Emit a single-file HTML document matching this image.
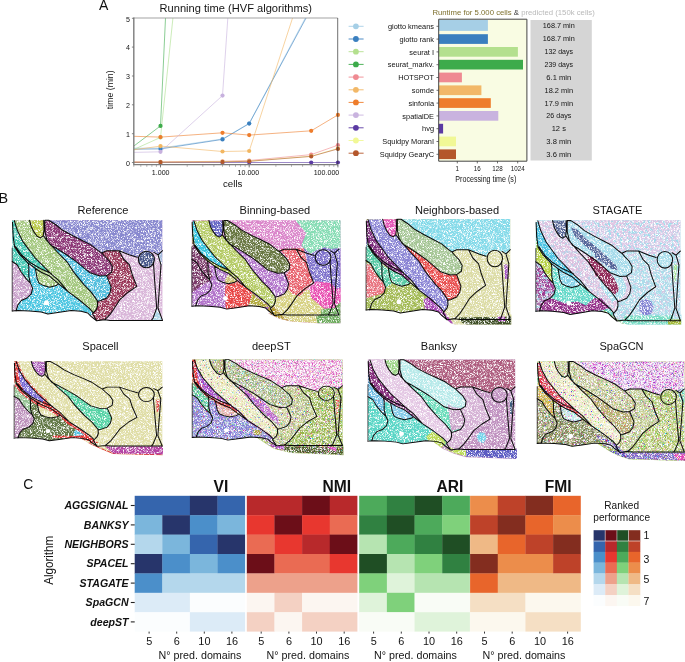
<!DOCTYPE html>
<html lang="en"><head><meta charset="utf-8"><title>Figure</title>
<style>
html,body{margin:0;padding:0;background:#fff;}
body{width:685px;height:662px;overflow:hidden;}
svg{display:block;font-family:"Liberation Sans", sans-serif;}
</style></head><body>
<svg width="685" height="662" viewBox="0 0 685 662">
<rect width="685" height="662" fill="#fff"/>
<g id="panelA">
<clipPath id="cpA"><rect x="133.5" y="18.0" width="207.2" height="147.5"/></clipPath>
<rect x="133.5" y="18.0" width="204.2" height="147.5" fill="#fff" stroke="none"/>
<g clip-path="url(#cpA)" fill="none" stroke-width="0.6" stroke-linejoin="round">
<polyline points="133.8,148.1 160.5,148.1 222.5,138.9 249.2,123.3 311.2,6.8" stroke="#a6cfe6"/>
<polyline points="133.8,149.2 160.5,148.9 222.5,139.4 249.2,123.6 311.2,8.5" stroke="#3a7fbf"/>
<polyline points="133.8,149.5 160.5,137.4 173.5,12.5" stroke="#aadf8c"/>
<polyline points="133.8,146.1 160.5,125.9 165.9,9.6" stroke="#3dab4b"/>
<polyline points="133.8,161.9 160.5,161.9 222.5,161.3 249.2,160.5 311.2,154.6 337.9,145.2" stroke="#f0898c"/>
<polyline points="133.8,149.8 160.5,146.1 222.5,151.5 249.2,151.0 293.4,15.4" stroke="#f2b661"/>
<polyline points="133.8,136.3 160.5,137.1 222.5,132.8 249.2,135.1 311.2,130.8 337.9,114.9" stroke="#ee7d2c"/>
<polyline points="133.8,152.4 160.5,151.8 222.5,95.6 228.2,12.5" stroke="#c7b1de"/>
<polyline points="133.8,162.5 160.5,162.5 222.5,162.5 249.2,162.5 311.2,162.5 337.9,162.5" stroke="#5b3aa3"/>
<polyline points="133.8,162.2 160.5,162.2 222.5,161.6 249.2,161.1 311.2,156.2 337.9,148.4" stroke="#eef58e"/>
<polyline points="133.8,162.2 160.5,162.2 222.5,161.9 249.2,161.3 311.2,156.4 337.9,148.9" stroke="#b4572b"/>
<circle cx="160.5" cy="148.1" r="2.1" fill="#a6cfe6" stroke="none"/>
<circle cx="222.5" cy="138.9" r="2.1" fill="#a6cfe6" stroke="none"/>
<circle cx="249.2" cy="123.3" r="2.1" fill="#a6cfe6" stroke="none"/>
<circle cx="160.5" cy="148.9" r="2.1" fill="#3a7fbf" stroke="none"/>
<circle cx="222.5" cy="139.4" r="2.1" fill="#3a7fbf" stroke="none"/>
<circle cx="249.2" cy="123.6" r="2.1" fill="#3a7fbf" stroke="none"/>
<circle cx="160.5" cy="137.4" r="2.1" fill="#aadf8c" stroke="none"/>
<circle cx="160.5" cy="125.9" r="2.1" fill="#3dab4b" stroke="none"/>
<circle cx="160.5" cy="161.9" r="2.1" fill="#f0898c" stroke="none"/>
<circle cx="222.5" cy="161.3" r="2.1" fill="#f0898c" stroke="none"/>
<circle cx="249.2" cy="160.5" r="2.1" fill="#f0898c" stroke="none"/>
<circle cx="311.2" cy="154.6" r="2.1" fill="#f0898c" stroke="none"/>
<circle cx="337.9" cy="145.2" r="2.1" fill="#f0898c" stroke="none"/>
<circle cx="160.5" cy="146.1" r="2.1" fill="#f2b661" stroke="none"/>
<circle cx="222.5" cy="151.5" r="2.1" fill="#f2b661" stroke="none"/>
<circle cx="249.2" cy="151.0" r="2.1" fill="#f2b661" stroke="none"/>
<circle cx="160.5" cy="137.1" r="2.1" fill="#ee7d2c" stroke="none"/>
<circle cx="222.5" cy="132.8" r="2.1" fill="#ee7d2c" stroke="none"/>
<circle cx="249.2" cy="135.1" r="2.1" fill="#ee7d2c" stroke="none"/>
<circle cx="311.2" cy="130.8" r="2.1" fill="#ee7d2c" stroke="none"/>
<circle cx="337.9" cy="114.9" r="2.1" fill="#ee7d2c" stroke="none"/>
<circle cx="160.5" cy="151.8" r="2.1" fill="#c7b1de" stroke="none"/>
<circle cx="222.5" cy="95.6" r="2.1" fill="#c7b1de" stroke="none"/>
<circle cx="160.5" cy="162.5" r="2.1" fill="#5b3aa3" stroke="none"/>
<circle cx="222.5" cy="162.5" r="2.1" fill="#5b3aa3" stroke="none"/>
<circle cx="249.2" cy="162.5" r="2.1" fill="#5b3aa3" stroke="none"/>
<circle cx="311.2" cy="162.5" r="2.1" fill="#5b3aa3" stroke="none"/>
<circle cx="337.9" cy="162.5" r="2.1" fill="#5b3aa3" stroke="none"/>
<circle cx="160.5" cy="162.2" r="2.1" fill="#eef58e" stroke="none"/>
<circle cx="222.5" cy="161.6" r="2.1" fill="#eef58e" stroke="none"/>
<circle cx="249.2" cy="161.1" r="2.1" fill="#eef58e" stroke="none"/>
<circle cx="311.2" cy="156.2" r="2.1" fill="#eef58e" stroke="none"/>
<circle cx="337.9" cy="148.4" r="2.1" fill="#eef58e" stroke="none"/>
<circle cx="160.5" cy="162.2" r="2.1" fill="#b4572b" stroke="none"/>
<circle cx="222.5" cy="161.9" r="2.1" fill="#b4572b" stroke="none"/>
<circle cx="249.2" cy="161.3" r="2.1" fill="#b4572b" stroke="none"/>
<circle cx="311.2" cy="156.4" r="2.1" fill="#b4572b" stroke="none"/>
<circle cx="337.9" cy="148.9" r="2.1" fill="#b4572b" stroke="none"/>
</g>
<path d="M133.5 18.0H337.7" fill="none" stroke="#999" stroke-width="0.9"/>
<path d="M337.7 18.0V165.5" fill="none" stroke="#333" stroke-width="0.7"/>
<path d="M133.8 17.6V164.6H337.7" fill="none" stroke="#7d7d7d" stroke-width="1.4"/>
<path d="M131.9 162.5H133.5" stroke="#555" stroke-width="0.7"/>
<text x="130.0" y="165.7" font-size="7.1" text-anchor="end" fill="#141414">0</text>
<path d="M131.9 133.7H133.5" stroke="#555" stroke-width="0.7"/>
<text x="130.0" y="136.9" font-size="7.1" text-anchor="end" fill="#141414">1</text>
<path d="M131.9 104.8H133.5" stroke="#555" stroke-width="0.7"/>
<text x="130.0" y="108.0" font-size="7.1" text-anchor="end" fill="#141414">2</text>
<path d="M131.9 76.0H133.5" stroke="#555" stroke-width="0.7"/>
<text x="130.0" y="79.2" font-size="7.1" text-anchor="end" fill="#141414">3</text>
<path d="M131.9 47.1H133.5" stroke="#555" stroke-width="0.7"/>
<text x="130.0" y="50.3" font-size="7.1" text-anchor="end" fill="#141414">4</text>
<path d="M131.9 18.3H133.5" stroke="#555" stroke-width="0.7"/>
<text x="130.0" y="21.5" font-size="7.1" text-anchor="end" fill="#141414">5</text>
<path d="M160.5 165.0v2.4" stroke="#555" stroke-width="0.8"/>
<path d="M249.2 165.0v2.4" stroke="#555" stroke-width="0.8"/>
<path d="M337.9 165.0v2.4" stroke="#555" stroke-width="0.8"/>
<path d="M133.8 165.2v1.5" stroke="#666" stroke-width="0.6"/>
<path d="M140.8 165.2v1.5" stroke="#666" stroke-width="0.6"/>
<path d="M146.8 165.2v1.5" stroke="#666" stroke-width="0.6"/>
<path d="M151.9 165.2v1.5" stroke="#666" stroke-width="0.6"/>
<path d="M156.4 165.2v1.5" stroke="#666" stroke-width="0.6"/>
<path d="M187.2 165.2v1.5" stroke="#666" stroke-width="0.6"/>
<path d="M202.8 165.2v1.5" stroke="#666" stroke-width="0.6"/>
<path d="M213.9 165.2v1.5" stroke="#666" stroke-width="0.6"/>
<path d="M222.5 165.2v1.5" stroke="#666" stroke-width="0.6"/>
<path d="M229.5 165.2v1.5" stroke="#666" stroke-width="0.6"/>
<path d="M235.5 165.2v1.5" stroke="#666" stroke-width="0.6"/>
<path d="M240.6 165.2v1.5" stroke="#666" stroke-width="0.6"/>
<path d="M245.1 165.2v1.5" stroke="#666" stroke-width="0.6"/>
<path d="M275.9 165.2v1.5" stroke="#666" stroke-width="0.6"/>
<path d="M291.5 165.2v1.5" stroke="#666" stroke-width="0.6"/>
<path d="M302.6 165.2v1.5" stroke="#666" stroke-width="0.6"/>
<path d="M311.2 165.2v1.5" stroke="#666" stroke-width="0.6"/>
<path d="M318.2 165.2v1.5" stroke="#666" stroke-width="0.6"/>
<path d="M324.2 165.2v1.5" stroke="#666" stroke-width="0.6"/>
<path d="M329.3 165.2v1.5" stroke="#666" stroke-width="0.6"/>
<path d="M333.8 165.2v1.5" stroke="#666" stroke-width="0.6"/>
<text x="160.7" y="175.3" font-size="7.1" text-anchor="middle" fill="#141414">1.000</text>
<text x="248.4" y="175.3" font-size="7.1" text-anchor="middle" fill="#141414">10.000</text>
<text x="339.3" y="175.3" font-size="7.1" text-anchor="end" fill="#141414">100.000</text>
<text x="232.7" y="186.8" font-size="9.7" text-anchor="middle" fill="#141414">cells</text>
<text transform="translate(113.3,89.8) rotate(-90)" font-size="8.4" text-anchor="middle" fill="#141414" textLength="38.8" lengthAdjust="spacingAndGlyphs">time (min)</text>
<text x="159.6" y="11.5" font-size="11.1" fill="#141414">Running time (HVF algorithms)</text>
<text x="98.9" y="9.7" font-size="14" fill="#111">A</text>
<rect x="438.7" y="19.2" width="88.19999999999999" height="142.0" fill="#f9fce3"/>
<rect x="530.5" y="20.0" width="61.3" height="140.5" fill="#d5d5d5"/>
<path d="M348.6 26.3H363.6" stroke="#a6cfe6" stroke-width="0.9"/>
<circle cx="355.9" cy="26.3" r="2.9" fill="#a6cfe6"/>
<rect x="438.7" y="19.8" width="49.2" height="11.1" fill="#a6cfe6"/>
<path d="M436.5 26.3H438.7" stroke="#333" stroke-width="0.7"/>
<text x="434.0" y="28.9" font-size="7.4" text-anchor="end" fill="#111">giotto kmeans</text>
<text x="558.8" y="28.3" font-size="7.7" text-anchor="middle" fill="#141414" textLength="32.0" lengthAdjust="spacingAndGlyphs">168.7 min</text>
<path d="M348.6 39.0H363.6" stroke="#3a7fbf" stroke-width="0.9"/>
<circle cx="355.9" cy="39.0" r="2.9" fill="#3a7fbf"/>
<rect x="438.7" y="34.2" width="49.2" height="9.7" fill="#3a7fbf"/>
<path d="M436.5 39.1H438.7" stroke="#333" stroke-width="0.7"/>
<text x="434.0" y="41.7" font-size="7.4" text-anchor="end" fill="#111">giotto rank</text>
<text x="558.8" y="41.2" font-size="7.7" text-anchor="middle" fill="#141414" textLength="32.0" lengthAdjust="spacingAndGlyphs">168.7 min</text>
<path d="M348.6 51.7H363.6" stroke="#b4e08e" stroke-width="0.9"/>
<circle cx="355.9" cy="51.7" r="2.9" fill="#b4e08e"/>
<rect x="438.7" y="47.0" width="79.2" height="9.7" fill="#b4e08e"/>
<path d="M436.5 51.9H438.7" stroke="#333" stroke-width="0.7"/>
<text x="434.0" y="54.5" font-size="7.4" text-anchor="end" fill="#111">seurat I</text>
<text x="558.8" y="54.0" font-size="7.7" text-anchor="middle" fill="#141414" textLength="28.5" lengthAdjust="spacingAndGlyphs">132 days</text>
<path d="M348.6 64.4H363.6" stroke="#3dab4b" stroke-width="0.9"/>
<circle cx="355.9" cy="64.4" r="2.9" fill="#3dab4b"/>
<rect x="438.7" y="59.8" width="84.3" height="9.7" fill="#3dab4b"/>
<path d="M436.5 64.7H438.7" stroke="#333" stroke-width="0.7"/>
<text x="434.0" y="67.3" font-size="7.4" text-anchor="end" fill="#111">seurat_markv.</text>
<text x="558.8" y="66.9" font-size="7.7" text-anchor="middle" fill="#141414" textLength="28.5" lengthAdjust="spacingAndGlyphs">239 days</text>
<path d="M348.6 77.1H363.6" stroke="#ef8a92" stroke-width="0.9"/>
<circle cx="355.9" cy="77.1" r="2.9" fill="#ef8a92"/>
<rect x="438.7" y="72.6" width="23.2" height="9.7" fill="#ef8a92"/>
<path d="M436.5 77.5H438.7" stroke="#333" stroke-width="0.7"/>
<text x="434.0" y="80.1" font-size="7.4" text-anchor="end" fill="#111">HOTSPOT</text>
<text x="558.8" y="79.8" font-size="7.7" text-anchor="middle" fill="#141414" textLength="24.9" lengthAdjust="spacingAndGlyphs">6.1 min</text>
<path d="M348.6 89.8H363.6" stroke="#f2b868" stroke-width="0.9"/>
<circle cx="355.9" cy="89.8" r="2.9" fill="#f2b868"/>
<rect x="438.7" y="85.4" width="42.7" height="9.7" fill="#f2b868"/>
<path d="M436.5 90.3H438.7" stroke="#333" stroke-width="0.7"/>
<text x="434.0" y="92.9" font-size="7.4" text-anchor="end" fill="#111">somde</text>
<text x="558.8" y="92.6" font-size="7.7" text-anchor="middle" fill="#141414" textLength="28.5" lengthAdjust="spacingAndGlyphs">18.2 min</text>
<path d="M348.6 102.4H363.6" stroke="#ee7d2c" stroke-width="0.9"/>
<circle cx="355.9" cy="102.4" r="2.9" fill="#ee7d2c"/>
<rect x="438.7" y="98.2" width="52.1" height="9.7" fill="#ee7d2c"/>
<path d="M436.5 103.1H438.7" stroke="#333" stroke-width="0.7"/>
<text x="434.0" y="105.7" font-size="7.4" text-anchor="end" fill="#111">sinfonia</text>
<text x="558.8" y="105.5" font-size="7.7" text-anchor="middle" fill="#141414" textLength="28.5" lengthAdjust="spacingAndGlyphs">17.9 min</text>
<path d="M348.6 115.1H363.6" stroke="#c9b3df" stroke-width="0.9"/>
<circle cx="355.9" cy="115.1" r="2.9" fill="#c9b3df"/>
<rect x="438.7" y="111.0" width="59.6" height="9.7" fill="#c9b3df"/>
<path d="M436.5 115.9H438.7" stroke="#333" stroke-width="0.7"/>
<text x="434.0" y="118.5" font-size="7.4" text-anchor="end" fill="#111">spatialDE</text>
<text x="558.8" y="118.3" font-size="7.7" text-anchor="middle" fill="#141414" textLength="24.9" lengthAdjust="spacingAndGlyphs">26 days</text>
<path d="M348.6 127.8H363.6" stroke="#5b3aa3" stroke-width="0.9"/>
<circle cx="355.9" cy="127.8" r="2.9" fill="#5b3aa3"/>
<rect x="438.7" y="123.8" width="4.4" height="9.7" fill="#5b3aa3"/>
<path d="M436.5 128.7H438.7" stroke="#333" stroke-width="0.7"/>
<text x="434.0" y="131.3" font-size="7.4" text-anchor="end" fill="#111">hvg</text>
<text x="558.8" y="131.1" font-size="7.7" text-anchor="middle" fill="#141414" textLength="14.2" lengthAdjust="spacingAndGlyphs">12 s</text>
<path d="M348.6 140.5H363.6" stroke="#f1f896" stroke-width="0.9"/>
<circle cx="355.9" cy="140.5" r="2.9" fill="#f1f896"/>
<rect x="438.7" y="136.6" width="17.3" height="9.7" fill="#f1f896"/>
<path d="M436.5 141.5H438.7" stroke="#333" stroke-width="0.7"/>
<text x="434.0" y="144.1" font-size="7.4" text-anchor="end" fill="#111">Squidpy MoranI</text>
<text x="558.8" y="144.0" font-size="7.7" text-anchor="middle" fill="#141414" textLength="24.9" lengthAdjust="spacingAndGlyphs">3.8 min</text>
<path d="M348.6 153.2H363.6" stroke="#b4572b" stroke-width="0.9"/>
<circle cx="355.9" cy="153.2" r="2.9" fill="#b4572b"/>
<rect x="438.7" y="149.4" width="17.3" height="9.7" fill="#b4572b"/>
<path d="M436.5 154.3H438.7" stroke="#333" stroke-width="0.7"/>
<text x="434.0" y="156.9" font-size="7.4" text-anchor="end" fill="#111">Squidpy GearyC</text>
<text x="558.8" y="156.8" font-size="7.7" text-anchor="middle" fill="#141414" textLength="24.9" lengthAdjust="spacingAndGlyphs">3.6 min</text>
<path d="M438.7 19.2H526.9V161.2H438.7Z" fill="none" stroke="#444" stroke-width="1.0"/>
<path d="M457.3 161.2v2.2" stroke="#333" stroke-width="0.7"/>
<text x="457.3" y="171.3" font-size="7.2" text-anchor="middle" fill="#141414" textLength="3.5" lengthAdjust="spacingAndGlyphs">1</text>
<path d="M477.3 161.2v2.2" stroke="#333" stroke-width="0.7"/>
<text x="477.3" y="171.3" font-size="7.2" text-anchor="middle" fill="#141414" textLength="6.9" lengthAdjust="spacingAndGlyphs">16</text>
<path d="M497.5 161.2v2.2" stroke="#333" stroke-width="0.7"/>
<text x="497.5" y="171.3" font-size="7.2" text-anchor="middle" fill="#141414" textLength="10.4" lengthAdjust="spacingAndGlyphs">128</text>
<path d="M517.7 161.2v2.2" stroke="#333" stroke-width="0.7"/>
<text x="517.7" y="171.3" font-size="7.2" text-anchor="middle" fill="#141414" textLength="13.8" lengthAdjust="spacingAndGlyphs">1024</text>
<text x="485.8" y="182.3" font-size="9.3" text-anchor="middle" fill="#141414" textLength="61" lengthAdjust="spacingAndGlyphs">Processing time (s)</text>
<text x="432.4" y="14.8" font-size="7.75" fill="#7d6f2c">Runtime for 5.000 cells <tspan fill="#333">&amp;</tspan> <tspan fill="#b9b9b9">predicted (150k cells)</tspan></text>
</g>
<g id="panelB">
<defs>
<g id="oln" fill="none" stroke="#0c0c0c" stroke-width="1.05" stroke-linejoin="round" stroke-linecap="round"><path d="M-0.0 28.2 L-0.0 91.0" stroke-width="0.7"/><path d="M-0.0 91.0 L5.8 90.5 L17.4 91.0 L29.0 92.1 L35.7 94.1 L45.6 92.6 L58.9 90.5 L68.9 91.3 L75.5 93.0 L78.8 96.3 M78.8 96.3 L84.4 100.8 L92.7 99.8 L97.7 100.4 L139.2 100.4 L150.3 100.4 M2.1 0.6 L5.3 10.8 L10.6 21.4 L16.9 29.9 L23.2 38.2 L31.7 46.6 L39.1 54.1 L46.4 60.4 L55.6 71.4 L67.2 80.0 L77.2 88.3 L80.5 92.1 M3.4 26.6 L9.4 35.0 L17.9 42.5 L28.5 48.8 L39.1 53.5 M0.3 2.3 L0.9 16.1 L2.4 26.9 L7.8 34.9 L15.7 42.8 L23.2 48.5 L29.0 52.3 L37.3 56.1 L45.6 63.1 L55.6 71.4 M-0.0 41.5 L4.9 44.8 L9.1 52.3 L14.1 58.9 L18.2 63.1 M15.7 42.8 L16.2 44.5 L16.6 46.5 L16.6 56.4 L18.2 63.1 M18.2 63.1 L20.4 68.1 L19.0 73.9 L14.9 78.0 L9.1 80.5 L5.8 84.7 L3.8 91.0 M23.2 48.8 L24.0 53.1 L25.0 58.9 L27.0 63.4 L31.5 65.6 L37.3 67.2 L44.0 65.6 L46.4 63.9 M17.4 0.3 L19.0 6.6 L21.5 11.6 L24.9 16.3 L28.2 17.9 L31.0 15.8 L31.8 9.9 L31.5 0.3 M31.5 15.8 L34.3 20.2 L37.8 23.9 L45.1 32.0 L54.8 41.8 L61.9 52.6 L71.7 64.7 L78.8 71.9 L85.0 80.4 L85.5 85.5 L84.3 89.3 L81.3 92.6 M32.7 0.3 L36.5 0.3 L44.0 5.0 L50.6 10.3 L60.6 15.8 L70.5 20.7 L78.8 24.9 L85.7 30.4 L89.4 32.9 L92.7 36.5 L96.9 40.7 L100.2 46.5 L99.4 52.3 L94.4 55.6 L87.7 56.1 L77.8 52.8 L70.5 46.8 L62.2 40.2 L52.3 33.5 L44.0 28.2 L38.1 24.9 L34.8 19.9 L32.7 11.6 L32.7 0.3 M89.4 32.9 L94.4 30.7 L106.8 30.7 L111.3 39.0 L117.3 44.8 L120.1 54.8 L124.6 66.4 L116.0 72.2 L107.7 79.7 L101.8 88.8 L97.7 94.6 L92.7 99.6 L84.4 100.8 L80.3 93.8 L81.3 92.6 L84.2 89.3 L85.4 85.5 L85.2 81.4 L88.6 80.4 L94.5 78.0 L97.7 73.2 L98.9 67.1 L96.4 60.6 L94.4 55.6 L99.4 52.3 L100.2 46.5 L96.9 40.7 L92.7 36.5 M106.8 30.7 L117.6 34.9 L125.1 37.3 M141.7 32.4 L145.8 34.9 L150.3 30.7 M141.2 42.3 L142.5 61.4 L144.5 88.0 L140.9 98.0 L139.2 100.4 M145.8 34.9 L148.8 44.8 L145.8 88.0 L150.3 100.4 M94.4 55.6 L96.4 60.6 L98.9 67.1 L97.7 73.2 L94.5 78.0 L88.6 80.4 L85.2 81.4"/><ellipse cx="134.2" cy="39.5" rx="8.0" ry="8.3"/></g>
<filter id="spk" x="0" y="0" width="100%" height="100%" color-interpolation-filters="sRGB"><feTurbulence type="fractalNoise" baseFrequency="1.7" numOctaves="1" seed="7" result="n"/><feColorMatrix in="n" type="matrix" values="0 0 0 0 1  0 0 0 0 1  0 0 0 0 1  0 0 0 4 -1.83"/></filter>
<filter id="cspk" x="0" y="0" width="100%" height="100%" color-interpolation-filters="sRGB"><feTurbulence type="fractalNoise" baseFrequency="1.37" numOctaves="1" seed="23" result="n"/><feColorMatrix in="n" type="matrix" values="2.6 0 0 0 -0.62  0 2.6 0 0 -0.62  0 0 2.6 0 -0.62  0 0 0 4 -2.0"/></filter>
<filter id="pspk" x="0" y="0" width="100%" height="100%" color-interpolation-filters="sRGB"><feTurbulence type="fractalNoise" baseFrequency="1.9" numOctaves="1" seed="41" result="n"/><feColorMatrix in="n" type="matrix" values="0 0 0 0 0.87  0 0.6 0 0 0.12  0 0 0 0 0.76  0 0 0 4 -1.6"/></filter>
<filter id="cyspk" x="0" y="0" width="100%" height="100%" color-interpolation-filters="sRGB"><feTurbulence type="fractalNoise" baseFrequency="0.35" numOctaves="3" seed="11" result="n"/><feColorMatrix in="n" type="matrix" values="0 0 0 0 0.62  0 0 0 0 0.86  0 0 0 0 0.92  0 0 0 5 -2.35"/></filter>
<filter id="mvspk" x="0" y="0" width="100%" height="100%" color-interpolation-filters="sRGB"><feTurbulence type="fractalNoise" baseFrequency="0.35" numOctaves="3" seed="5" result="n"/><feColorMatrix in="n" type="matrix" values="0 0 0 0 0.87  0 0 0 0 0.76  0 0 0 0 0.88  0 0 0 5 -2.35"/></filter>
<filter id="plspk" x="0" y="0" width="100%" height="100%" color-interpolation-filters="sRGB"><feTurbulence type="fractalNoise" baseFrequency="0.35" numOctaves="3" seed="17" result="n"/><feColorMatrix in="n" type="matrix" values="0 0 0 0 0.6  0 0 0 0 0.22  0 0 0 0 0.55  0 0 0 5 -2.35"/></filter>
<filter id="olspk" x="0" y="0" width="100%" height="100%" color-interpolation-filters="sRGB"><feTurbulence type="fractalNoise" baseFrequency="0.35" numOctaves="3" seed="29" result="n"/><feColorMatrix in="n" type="matrix" values="0 0 0 0 0.48  0 0 0 0 0.55  0 0 0 0 0.3  0 0 0 5 -2.35"/></filter>
<filter id="khspk" x="0" y="0" width="100%" height="100%" color-interpolation-filters="sRGB"><feTurbulence type="fractalNoise" baseFrequency="0.35" numOctaves="3" seed="37" result="n"/><feColorMatrix in="n" type="matrix" values="0 0 0 0 0.91  0 0 0 0 0.91  0 0 0 0 0.72  0 0 0 5 -2.35"/></filter>
<filter id="vspk" x="0" y="0" width="100%" height="100%" color-interpolation-filters="sRGB"><feTurbulence type="fractalNoise" baseFrequency="1.9" numOctaves="1" seed="43" result="n"/><feColorMatrix in="n" type="matrix" values="1.2 0 0 0 0.15  0 1.0 0 0 -0.1  0 0 0 0 0.80  0 0 0 4 -1.65"/></filter>
<clipPath id="cm0"><polygon transform="translate(12.2,220.0) scale(1.0,1.0)" points="-0.0,-0.0 150.3,-0.0 150.3,100.4 139.2,100.4 97.7,100.4 92.7,99.8 84.4,100.8 78.8,96.3 78.8,96.3 75.5,93.0 68.9,91.3 58.9,90.5 45.6,92.6 35.7,94.1 29.0,92.1 17.4,91.0 5.8,90.5 -0.0,91.0"/></clipPath>
<clipPath id="cs0ALL"><polygon transform="translate(12.2,220.0) scale(1.0,1.0)" points="-2.0,-3.0 152.4,-3.0 152.4,113.6 -2.0,113.6"/></clipPath>
<clipPath id="cm1"><polygon transform="translate(191.85,220.2) scale(0.978,0.945)" points="-0.0,-0.0 150.3,-0.0 150.3,100.4 139.2,100.4 97.7,100.4 92.7,99.8 84.4,100.8 78.8,96.3 78.8,96.3 75.5,93.0 68.9,91.3 58.9,90.5 45.6,92.6 35.7,94.1 29.0,92.1 17.4,91.0 5.8,90.5 -0.0,91.0"/><polygon points="264.0,301.4 276.5,314.3 268.0,313.3 277.9,318.3 291.2,321.6 317.8,323.3 340.5,323.3 340.5,220.0 337.7,220.0 337.7,312.1 282.9,312.1"/></clipPath>
<clipPath id="cs1ALL"><polygon transform="translate(191.85,220.2) scale(0.978,0.945)" points="-2.0,-3.0 152.4,-3.0 152.4,113.6 -2.0,113.6"/></clipPath>
<clipPath id="cm2"><polygon transform="translate(366.0,219.0) scale(0.96,1.0)" points="-0.0,-0.0 150.3,-0.0 150.3,100.4 139.2,100.4 97.7,100.4 92.7,99.8 84.4,100.8 78.8,96.3 78.8,96.3 75.5,93.0 68.9,91.3 58.9,90.5 45.6,92.6 35.7,94.1 29.0,92.1 17.4,91.0 5.8,90.5 -0.0,91.0"/><polygon points="434.1,307.2 444.0,317.1 451.5,323.8 456.6,324.6 511.4,324.6 511.4,314.6 446.6,314.6"/></clipPath>
<clipPath id="cs2ALL"><polygon transform="translate(366.0,219.0) scale(0.96,1.0)" points="-2.0,-3.0 152.4,-3.0 152.4,113.6 -2.0,113.6"/></clipPath>
<clipPath id="cm3"><polygon transform="translate(535.8,220.3) scale(0.962,1.0)" points="-0.0,-0.0 150.3,-0.0 150.3,100.4 139.2,100.4 97.7,100.4 92.7,99.8 84.4,100.8 78.8,96.3 78.8,96.3 75.5,93.0 68.9,91.3 58.9,90.5 45.6,92.6 35.7,94.1 29.0,92.1 17.4,91.0 5.8,90.5 -0.0,91.0"/><polygon points="602.4,308.0 610.7,315.0 621.5,323.3 628.2,324.6 681.4,324.6 681.4,314.6 611.6,314.6"/></clipPath>
<clipPath id="cs3BP"><polygon transform="translate(535.8,220.3) scale(0.962,1.0)" points="36.5,0.3 150.3,-0.0 150.3,30.7 145.8,34.9 141.7,32.4 134.2,30.7 128.4,32.4 125.1,37.3 117.6,34.9 106.8,30.7 94.4,30.7 89.4,32.9 85.7,30.4 78.8,24.9 70.5,20.7 60.6,15.8 50.6,10.3 44.0,5.0"/></clipPath>
<clipPath id="cs3OB"><polygon transform="translate(535.8,220.3) scale(0.962,1.0)" points="2.1,0.6 5.3,10.8 10.6,21.4 16.9,29.9 23.2,38.2 31.7,46.6 39.1,54.1 46.4,60.4 55.6,71.4 67.2,80.0 77.2,88.3 80.5,92.1 81.3,92.6 84.3,89.3 85.5,85.5 85.0,80.4 78.8,71.9 71.7,64.7 61.9,52.6 54.8,41.8 45.1,32.0 37.8,23.9 34.3,20.2 31.5,15.8 31.0,15.8 28.2,17.9 24.9,16.3 21.5,11.6 19.0,6.6 17.4,0.3"/></clipPath>
<clipPath id="cs3MV"><polygon transform="translate(535.8,220.3) scale(0.962,1.0)" points="106.8,30.7 117.6,34.9 125.1,37.3 127.6,44.0 131.7,48.1 138.4,45.6 141.2,42.3 145.8,34.9 150.3,30.7 150.3,100.4 97.7,100.4 97.7,94.6 101.8,88.8 107.7,79.7 116.0,72.2 124.6,66.4 120.1,54.8 117.3,44.8 111.3,39.0"/></clipPath>
<clipPath id="cs3MR"><polygon transform="translate(535.8,220.3) scale(0.962,1.0)" points="89.4,32.9 94.4,30.7 106.8,30.7 111.3,39.0 117.3,44.8 120.1,54.8 124.6,66.4 116.0,72.2 107.7,79.7 101.8,88.8 97.7,94.6 92.7,99.6 84.4,100.8 80.3,93.8 81.3,92.6 84.2,89.3 85.4,85.5 85.2,81.4 88.6,80.4 94.5,78.0 97.7,73.2 98.9,67.1 96.4,60.6 94.4,55.6 99.4,52.3 100.2,46.5 96.9,40.7 92.7,36.5"/></clipPath>
<clipPath id="cs3PL"><polygon transform="translate(535.8,220.3) scale(0.962,1.0)" points="-0.0,41.5 4.9,44.8 9.1,52.3 14.1,58.9 18.2,63.1 20.4,68.1 19.0,73.9 14.9,78.0 9.1,80.5 5.8,84.7 3.8,91.0 -0.0,91.0"/></clipPath>
<clipPath id="cs3ALL"><polygon transform="translate(535.8,220.3) scale(0.962,1.0)" points="-2.0,-3.0 152.4,-3.0 152.4,113.6 -2.0,113.6"/></clipPath>
<clipPath id="cm4"><polygon transform="translate(14.1,361.2) scale(0.986,0.845)" points="-0.0,-0.0 150.3,-0.0 150.3,100.4 139.2,100.4 97.7,100.4 92.7,99.8 84.4,100.8 78.8,96.3 78.8,96.3 75.5,93.0 68.9,91.3 58.9,90.5 45.6,92.6 35.7,94.1 29.0,92.1 17.4,91.0 5.8,90.5 -0.0,91.0"/><polygon points="73.4,433.9 90.0,444.0 101.6,449.3 113.2,454.0 163.0,455.3 163.0,443.8 96.6,442.2"/></clipPath>
<clipPath id="cs4ALL"><polygon transform="translate(14.1,361.2) scale(0.986,0.845)" points="-2.0,-3.0 152.4,-3.0 152.4,113.6 -2.0,113.6"/></clipPath>
<clipPath id="cm5"><polygon transform="translate(192.2,359.4) scale(1.0,0.8576)" points="-0.0,-0.0 150.3,-0.0 150.3,100.4 139.2,100.4 97.7,100.4 92.7,99.8 84.4,100.8 78.8,96.3 78.8,96.3 75.5,93.0 68.9,91.3 58.9,90.5 45.6,92.6 35.7,94.1 29.0,92.1 17.4,91.0 5.8,90.5 -0.0,91.0"/><polygon points="251.4,433.9 266.3,444.0 274.6,449.0 281.2,450.6 291.2,453.0 329.4,454.6 343.4,455.3 343.4,444.7 274.6,443.0"/></clipPath>
<clipPath id="cs5PM"><polygon transform="translate(192.2,359.4) scale(1.0,0.8576)" points="32.7,0.3 36.5,0.3 44.0,5.0 50.6,10.3 60.6,15.8 70.5,20.7 78.8,24.9 85.7,30.4 89.4,32.9 92.7,36.5 96.9,40.7 100.2,46.5 99.4,52.3 94.4,55.6 87.7,56.1 77.8,52.8 70.5,46.8 62.2,40.2 52.3,33.5 44.0,28.2 38.1,24.9 34.8,19.9 32.7,11.6 32.7,0.3"/></clipPath>
<clipPath id="cs5PM"><polygon transform="translate(192.2,359.4) scale(1.0,0.8576)" points="32.7,0.3 36.5,0.3 44.0,5.0 50.6,10.3 60.6,15.8 70.5,20.7 78.8,24.9 85.7,30.4 89.4,32.9 92.7,36.5 96.9,40.7 100.2,46.5 99.4,52.3 94.4,55.6 87.7,56.1 77.8,52.8 70.5,46.8 62.2,40.2 52.3,33.5 44.0,28.2 38.1,24.9 34.8,19.9 32.7,11.6 32.7,0.3"/></clipPath>
<clipPath id="cs5MV"><polygon transform="translate(192.2,359.4) scale(1.0,0.8576)" points="106.8,30.7 117.6,34.9 125.1,37.3 127.6,44.0 131.7,48.1 138.4,45.6 141.2,42.3 145.8,34.9 150.3,30.7 150.3,100.4 97.7,100.4 97.7,94.6 101.8,88.8 107.7,79.7 116.0,72.2 124.6,66.4 120.1,54.8 117.3,44.8 111.3,39.0"/></clipPath>
<clipPath id="cs5MR"><polygon transform="translate(192.2,359.4) scale(1.0,0.8576)" points="89.4,32.9 94.4,30.7 106.8,30.7 111.3,39.0 117.3,44.8 120.1,54.8 124.6,66.4 116.0,72.2 107.7,79.7 101.8,88.8 97.7,94.6 92.7,99.6 84.4,100.8 80.3,93.8 81.3,92.6 84.2,89.3 85.4,85.5 85.2,81.4 88.6,80.4 94.5,78.0 97.7,73.2 98.9,67.1 96.4,60.6 94.4,55.6 99.4,52.3 100.2,46.5 96.9,40.7 92.7,36.5"/></clipPath>
<clipPath id="cs5CB"><polygon transform="translate(192.2,359.4) scale(1.0,0.8576)" points="16.6,46.5 16.6,56.4 18.2,63.1 20.4,68.1 19.0,73.9 14.9,78.0 9.1,80.5 5.8,84.7 3.8,91.0 5.8,90.5 17.4,91.0 29.0,92.1 35.7,94.1 45.6,92.6 58.9,90.5 68.9,91.3 75.5,93.0 78.8,96.3 80.5,92.1 77.2,88.3 67.2,80.0 55.6,71.4 45.6,63.1 46.4,63.9 44.0,65.6 37.3,67.2 31.5,65.6 27.0,63.4 25.0,58.9 24.0,53.1 23.2,48.8 16.6,46.5"/></clipPath>
<clipPath id="cs5PL"><polygon transform="translate(192.2,359.4) scale(1.0,0.8576)" points="-0.0,41.5 4.9,44.8 9.1,52.3 14.1,58.9 18.2,63.1 20.4,68.1 19.0,73.9 14.9,78.0 9.1,80.5 5.8,84.7 3.8,91.0 -0.0,91.0"/></clipPath>
<clipPath id="cs5ALL"><polygon transform="translate(192.2,359.4) scale(1.0,0.8576)" points="-2.0,-3.0 152.4,-3.0 152.4,113.6 -2.0,113.6"/></clipPath>
<clipPath id="cs5BP"><polygon transform="translate(192.2,359.4) scale(1.0,0.8576)" points="36.5,0.3 150.3,-0.0 150.3,30.7 145.8,34.9 141.7,32.4 134.2,30.7 128.4,32.4 125.1,37.3 117.6,34.9 106.8,30.7 94.4,30.7 89.4,32.9 85.7,30.4 78.8,24.9 70.5,20.7 60.6,15.8 50.6,10.3 44.0,5.0"/></clipPath>
<clipPath id="cs5ALL"><polygon transform="translate(192.2,359.4) scale(1.0,0.8576)" points="-2.0,-3.0 152.4,-3.0 152.4,113.6 -2.0,113.6"/></clipPath>
<clipPath id="cm6"><polygon transform="translate(367.9,359.4) scale(0.98,0.898)" points="-0.0,-0.0 150.3,-0.0 150.3,100.4 139.2,100.4 97.7,100.4 92.7,99.8 84.4,100.8 78.8,96.3 78.8,96.3 75.5,93.0 68.9,91.3 58.9,90.5 45.6,92.6 35.7,94.1 29.0,92.1 17.4,91.0 5.8,90.5 -0.0,91.0"/><polygon points="426.4,436.4 443.0,449.0 454.6,454.0 466.2,457.3 516.9,458.9 516.9,448.0 449.6,446.3"/></clipPath>
<clipPath id="cs6ALL"><polygon transform="translate(367.9,359.4) scale(0.98,0.898)" points="-2.0,-3.0 152.4,-3.0 152.4,113.6 -2.0,113.6"/></clipPath>
<clipPath id="cm7"><polygon transform="translate(537.2,361.2) scale(0.979,0.905)" points="-0.0,-0.0 150.3,-0.0 150.3,100.4 139.2,100.4 97.7,100.4 92.7,99.8 84.4,100.8 78.8,96.3 78.8,96.3 75.5,93.0 68.9,91.3 58.9,90.5 45.6,92.6 35.7,94.1 29.0,92.1 17.4,91.0 5.8,90.5 -0.0,91.0"/><polygon points="588.4,438.0 608.3,450.6 616.6,454.9 628.2,459.3 685.5,460.9 685.5,449.6 611.6,448.0"/></clipPath>
<clipPath id="cs7PM"><polygon transform="translate(537.2,361.2) scale(0.979,0.905)" points="32.7,0.3 36.5,0.3 44.0,5.0 50.6,10.3 60.6,15.8 70.5,20.7 78.8,24.9 85.7,30.4 89.4,32.9 92.7,36.5 96.9,40.7 100.2,46.5 99.4,52.3 94.4,55.6 87.7,56.1 77.8,52.8 70.5,46.8 62.2,40.2 52.3,33.5 44.0,28.2 38.1,24.9 34.8,19.9 32.7,11.6 32.7,0.3"/></clipPath>
<clipPath id="cs7PM"><polygon transform="translate(537.2,361.2) scale(0.979,0.905)" points="32.7,0.3 36.5,0.3 44.0,5.0 50.6,10.3 60.6,15.8 70.5,20.7 78.8,24.9 85.7,30.4 89.4,32.9 92.7,36.5 96.9,40.7 100.2,46.5 99.4,52.3 94.4,55.6 87.7,56.1 77.8,52.8 70.5,46.8 62.2,40.2 52.3,33.5 44.0,28.2 38.1,24.9 34.8,19.9 32.7,11.6 32.7,0.3"/></clipPath>
<clipPath id="cs7MV"><polygon transform="translate(537.2,361.2) scale(0.979,0.905)" points="106.8,30.7 117.6,34.9 125.1,37.3 127.6,44.0 131.7,48.1 138.4,45.6 141.2,42.3 145.8,34.9 150.3,30.7 150.3,100.4 97.7,100.4 97.7,94.6 101.8,88.8 107.7,79.7 116.0,72.2 124.6,66.4 120.1,54.8 117.3,44.8 111.3,39.0"/></clipPath>
<clipPath id="cs7CB"><polygon transform="translate(537.2,361.2) scale(0.979,0.905)" points="16.6,46.5 16.6,56.4 18.2,63.1 20.4,68.1 19.0,73.9 14.9,78.0 9.1,80.5 5.8,84.7 3.8,91.0 5.8,90.5 17.4,91.0 29.0,92.1 35.7,94.1 45.6,92.6 58.9,90.5 68.9,91.3 75.5,93.0 78.8,96.3 80.5,92.1 77.2,88.3 67.2,80.0 55.6,71.4 45.6,63.1 46.4,63.9 44.0,65.6 37.3,67.2 31.5,65.6 27.0,63.4 25.0,58.9 24.0,53.1 23.2,48.8 16.6,46.5"/></clipPath>
<clipPath id="cs7PL"><polygon transform="translate(537.2,361.2) scale(0.979,0.905)" points="-0.0,41.5 4.9,44.8 9.1,52.3 14.1,58.9 18.2,63.1 20.4,68.1 19.0,73.9 14.9,78.0 9.1,80.5 5.8,84.7 3.8,91.0 -0.0,91.0"/></clipPath>
<clipPath id="cs7MR"><polygon transform="translate(537.2,361.2) scale(0.979,0.905)" points="89.4,32.9 94.4,30.7 106.8,30.7 111.3,39.0 117.3,44.8 120.1,54.8 124.6,66.4 116.0,72.2 107.7,79.7 101.8,88.8 97.7,94.6 92.7,99.6 84.4,100.8 80.3,93.8 81.3,92.6 84.2,89.3 85.4,85.5 85.2,81.4 88.6,80.4 94.5,78.0 97.7,73.2 98.9,67.1 96.4,60.6 94.4,55.6 99.4,52.3 100.2,46.5 96.9,40.7 92.7,36.5"/></clipPath>
<clipPath id="cs7ALL"><polygon transform="translate(537.2,361.2) scale(0.979,0.905)" points="-2.0,-3.0 152.4,-3.0 152.4,113.6 -2.0,113.6"/></clipPath>
<clipPath id="cs7BP"><polygon transform="translate(537.2,361.2) scale(0.979,0.905)" points="36.5,0.3 150.3,-0.0 150.3,30.7 145.8,34.9 141.7,32.4 134.2,30.7 128.4,32.4 125.1,37.3 117.6,34.9 106.8,30.7 94.4,30.7 89.4,32.9 85.7,30.4 78.8,24.9 70.5,20.7 60.6,15.8 50.6,10.3 44.0,5.0"/></clipPath>
<clipPath id="cs7ALL"><polygon transform="translate(537.2,361.2) scale(0.979,0.905)" points="-2.0,-3.0 152.4,-3.0 152.4,113.6 -2.0,113.6"/></clipPath>
</defs>
<text x="103.0" y="213.6" font-size="11.05" text-anchor="middle" fill="#141414">Reference</text>
<g clip-path="url(#cm0)">
<polygon transform="translate(12.2,220.0) scale(1.0,1.0)" points="-0.0,-0.0 150.3,-0.0 150.3,100.4 139.2,100.4 97.7,100.4 92.7,99.8 84.4,100.8 78.8,96.3 78.8,96.3 75.5,93.0 68.9,91.3 58.9,90.5 45.6,92.6 35.7,94.1 29.0,92.1 17.4,91.0 5.8,90.5 -0.0,91.0" fill="#d9b6d9"/>
<polygon transform="translate(12.2,220.0) scale(1.0,1.0)" points="36.5,0.3 150.3,-0.0 150.3,30.7 145.8,34.9 141.7,32.4 134.2,30.7 128.4,32.4 125.1,37.3 117.6,34.9 106.8,30.7 94.4,30.7 89.4,32.9 85.7,30.4 78.8,24.9 70.5,20.7 60.6,15.8 50.6,10.3 44.0,5.0" fill="#8888cf"/>
<polygon transform="translate(12.2,220.0) scale(1.0,1.0)" points="-0.0,-0.0 2.1,0.6 5.3,10.8 10.6,21.4 16.9,29.9 23.2,38.2 31.7,46.6 39.1,54.1 37.3,56.1 29.0,52.3 23.2,48.5 15.7,42.8 16.6,46.5 16.6,56.4 18.2,63.1 18.2,63.1 14.1,58.9 9.1,52.3 4.9,44.8 -0.0,41.5" fill="#42c7b2"/>
<polygon transform="translate(12.2,220.0) scale(1.0,1.0)" points="-0.0,41.5 4.9,44.8 9.1,52.3 14.1,58.9 18.2,63.1 20.4,68.1 19.0,73.9 14.9,78.0 9.1,80.5 5.8,84.7 3.8,91.0 -0.0,91.0" fill="#c79fc9"/>
<polygon transform="translate(12.2,220.0) scale(1.0,1.0)" points="16.6,46.5 16.6,56.4 18.2,63.1 20.4,68.1 19.0,73.9 14.9,78.0 9.1,80.5 5.8,84.7 3.8,91.0 5.8,90.5 17.4,91.0 29.0,92.1 35.7,94.1 45.6,92.6 58.9,90.5 68.9,91.3 75.5,93.0 78.8,96.3 80.5,92.1 77.2,88.3 67.2,80.0 55.6,71.4 45.6,63.1 46.4,63.9 44.0,65.6 37.3,67.2 31.5,65.6 27.0,63.4 25.0,58.9 24.0,53.1 23.2,48.8 16.6,46.5" fill="#4dc6e1"/>
<polygon transform="translate(12.2,220.0) scale(1.0,1.0)" points="2.1,0.6 5.3,10.8 10.6,21.4 16.9,29.9 23.2,38.2 31.7,46.6 39.1,54.1 46.4,60.4 55.6,71.4 67.2,80.0 77.2,88.3 80.5,92.1 81.3,92.6 84.3,89.3 85.5,85.5 85.0,80.4 78.8,71.9 71.7,64.7 61.9,52.6 54.8,41.8 45.1,32.0 37.8,23.9 34.3,20.2 31.5,15.8 31.0,15.8 28.2,17.9 24.9,16.3 21.5,11.6 19.0,6.6 17.4,0.3" fill="#a3c77e"/>
<polygon transform="translate(12.2,220.0) scale(1.0,1.0)" points="23.2,48.5 29.0,52.3 37.3,56.1 45.6,63.1 46.4,63.9 44.0,65.6 37.3,67.2 31.5,65.6 27.0,63.4 25.0,58.9 24.0,53.1 23.2,48.8" fill="#a3c77e"/>
<polygon transform="translate(12.2,220.0) scale(1.0,1.0)" points="28.5,48.8 39.1,53.5 46.4,60.4 55.6,71.4 45.6,63.1 37.3,56.1 29.0,52.3 23.2,48.5" fill="#a3c77e"/>
<polygon transform="translate(12.2,220.0) scale(1.0,1.0)" points="17.4,0.3 19.0,6.6 21.5,11.6 24.9,16.3 28.2,17.9 31.0,15.8 31.8,9.9 31.5,0.3" fill="#b9c94a"/>
<polygon transform="translate(12.2,220.0) scale(1.0,1.0)" points="32.7,0.3 36.5,0.3 44.0,5.0 50.6,10.3 60.6,15.8 70.5,20.7 78.8,24.9 85.7,30.4 89.4,32.9 92.7,36.5 96.9,40.7 100.2,46.5 99.4,52.3 94.4,55.6 87.7,56.1 77.8,52.8 70.5,46.8 62.2,40.2 52.3,33.5 44.0,28.2 38.1,24.9 34.8,19.9 32.7,11.6 32.7,0.3" fill="#8c3877"/>
<polygon transform="translate(12.2,220.0) scale(1.0,1.0)" points="39.3,25.6 44.0,28.2 52.3,33.5 62.2,40.2 70.5,46.8 77.8,52.8 87.7,56.1 94.4,55.6 96.4,60.6 98.9,67.1 97.7,73.2 94.5,78.0 88.6,80.4 85.2,81.4 85.0,80.4 78.8,71.9 71.7,64.7 61.9,52.6 54.8,41.8 45.1,32.0" fill="#50bddd"/>
<polygon transform="translate(12.2,220.0) scale(1.0,1.0)" points="89.4,32.9 94.4,30.7 106.8,30.7 111.3,39.0 117.3,44.8 120.1,54.8 124.6,66.4 116.0,72.2 107.7,79.7 101.8,88.8 97.7,94.6 92.7,99.6 84.4,100.8 80.3,93.8 81.3,92.6 84.2,89.3 85.4,85.5 85.2,81.4 88.6,80.4 94.5,78.0 97.7,73.2 98.9,67.1 96.4,60.6 94.4,55.6 99.4,52.3 100.2,46.5 96.9,40.7 92.7,36.5" fill="#9a3859"/>
<polygon transform="translate(12.2,220.0) scale(1.0,1.0)" points="106.8,30.7 117.6,34.9 125.1,37.3 127.6,44.0 131.7,48.1 138.4,45.6 141.2,42.3 145.8,34.9 150.3,30.7 150.3,100.4 97.7,100.4 97.7,94.6 101.8,88.8 107.7,79.7 116.0,72.2 124.6,66.4 120.1,54.8 117.3,44.8 111.3,39.0" fill="#d9b6d9"/>
<polygon transform="translate(12.2,220.0) scale(1.0,1.0)" points="145.8,34.9 150.3,30.7 150.3,44.8 148.8,44.8" fill="#a6bcde"/>
<polygon transform="translate(12.2,220.0) scale(1.0,1.0)" points="140.9,98.0 144.5,88.0 150.3,100.4 139.2,100.4" fill="#acd6e6"/>
<ellipse transform="translate(12.2,220.0) scale(1.0,1.0)" cx="134.2" cy="39.5" rx="8.0" ry="8.3" fill="#48578a"/>
<g clip-path="url(#cs0ALL)"><rect x="9.2" y="216.0" width="158" height="116" fill="#fff" filter="url(#spk)" opacity="1"/></g>
</g>
<use href="#oln" transform="translate(12.2,220.0) scale(1.0,1.0)"/>
<circle transform="translate(12.2,220.0) scale(1.0,1.0)" cx="34.3" cy="82.7" r="2.5" fill="#fff"/>
<text x="274.9" y="213.6" font-size="11.05" text-anchor="middle" fill="#141414">Binning-based</text>
<g clip-path="url(#cm1)">
<polygon transform="translate(191.85,220.2) scale(0.978,0.945)" points="-2.0,-3.0 152.4,-3.0 152.4,113.6 -2.0,113.6" fill="#da86ca"/>
<polygon points="294.5,219.2 341.0,219.2 341.0,248.2 331.1,249.0 324.4,247.4 316.1,250.7 311.1,254.0 303.7,248.2 301.5,244.9 306.2,233.3" fill="#86dcb4"/>
<polygon points="311.1,254.0 316.1,250.7 324.4,247.4 331.1,249.0 341.0,248.2 341.0,288.1 336.0,288.9 331.1,283.1 316.1,281.4 313.6,283.1 310.3,273.1 307.5,264.8 303.7,248.2" fill="#7d70cb"/>
<polygon points="279.6,249.0 297.0,248.2 303.7,248.2 307.5,264.8 310.3,273.1 313.6,283.1 306.2,289.7 299.5,296.4 291.2,293.0 287.1,289.7 289.2,281.4 286.2,274.8 289.6,269.8 289.6,263.2 286.2,256.5" fill="#e8616d"/>
<polygon points="313.6,283.1 316.1,281.4 331.1,283.1 336.0,288.9 341.0,288.1 341.0,301.4 334.4,308.0 324.4,308.8 319.4,304.7 311.1,298.0 309.5,289.7" fill="#e84fb1"/>
<polygon points="273.8,298.0 281.2,296.4 287.9,289.7 291.2,293.0 299.5,296.4 306.2,289.7 309.5,289.7 311.1,298.0 319.4,304.7 324.4,308.8 321.1,314.6 317.8,323.3 291.2,322.1 282.9,316.6 273.8,306.0" fill="#d6d080"/>
<polygon points="321.1,310.0 324.4,308.8 334.4,308.0 341.0,301.4 341.0,323.8 317.8,323.8 316.1,316.6 321.1,314.6" fill="#6caa5c"/>
<polygon transform="translate(191.85,220.2) scale(0.978,0.945)" points="-0.0,41.5 4.9,44.8 9.1,52.3 14.1,58.9 18.2,63.1 20.4,68.1 19.0,73.9 14.9,78.0 9.1,80.5 5.8,84.7 3.8,91.0 -0.0,91.0" fill="#b274ca"/>
<polygon transform="translate(191.85,220.2) scale(0.978,0.945)" points="16.6,46.5 16.6,56.4 18.2,63.1 20.4,68.1 19.0,73.9 14.9,78.0 9.1,80.5 5.8,84.7 3.8,91.0 5.8,90.5 17.4,91.0 29.0,92.1 35.7,94.1 45.6,92.6 58.9,90.5 68.9,91.3 75.5,93.0 78.8,96.3 80.5,92.1 77.2,88.3 67.2,80.0 55.6,71.4 45.6,63.1 46.4,63.9 44.0,65.6 37.3,67.2 31.5,65.6 27.0,63.4 25.0,58.9 24.0,53.1 23.2,48.8 16.6,46.5" fill="#b274ca"/>
<polygon transform="translate(191.85,220.2) scale(0.978,0.945)" points="-0.0,-0.0 0.3,2.3 0.9,16.1 2.4,26.9 7.8,34.9 15.7,42.8 16.6,46.5 16.6,56.4 18.2,63.1 18.2,63.1 14.1,58.9 9.1,52.3 4.9,44.8 -0.0,41.5" fill="#a9c04c"/>
<polygon transform="translate(191.85,220.2) scale(0.978,0.945)" points="23.2,48.5 29.0,52.3 37.3,56.1 45.6,63.1 46.4,63.9 44.0,65.6 37.3,67.2 31.5,65.6 27.0,63.4 25.0,58.9 24.0,53.1 23.2,48.8" fill="#a66cc0"/>
<polygon transform="translate(191.85,220.2) scale(0.978,0.945)" points="-0.0,34.0 0.9,19.9 2.4,26.9 7.8,34.9 15.7,42.8 16.6,46.5 16.6,56.4 18.2,63.1 18.2,63.1 14.1,58.9 9.1,52.3 4.9,44.8 -0.0,41.5" fill="#7a3a69"/>
<polygon points="190.6,250.7 195.1,253.2 200.9,261.5 207.6,264.8 210.9,269.8 212.6,276.4 209.2,281.4 202.6,284.7 196.0,289.7 190.6,293.0" fill="#7a3a69"/>
<polygon points="225.0,280.6 227.5,274.8 233.3,276.4 237.5,280.6 234.2,283.1 225.9,283.9" fill="#cac272"/>
<polygon points="225.9,283.9 234.2,283.1 237.5,280.6 242.5,284.7 249.1,289.7 252.4,293.0 249.9,301.4 247.4,308.8 225.9,309.7 225.0,293.0" fill="#e84545"/>
<polygon points="252.4,293.0 259.1,298.9 265.7,303.8 269.0,306.7 260.7,307.3 247.4,308.8 249.9,301.4" fill="#b3ab3f"/>
<polygon points="264.0,302.2 276.5,313.0 268.0,312.1 273.8,306.0 282.9,316.6 291.2,322.1 284.6,321.3 274.6,316.6 264.6,311.3 269.0,308.0" fill="#b59c34"/>
<polygon transform="translate(191.85,220.2) scale(0.978,0.945)" points="0.3,2.3 0.9,16.1 2.4,26.9 7.8,34.9 15.7,42.8 23.2,48.5 29.0,52.3 37.3,56.1 45.6,63.1 46.4,60.4 39.1,54.1 31.7,46.6 23.2,38.2 16.9,29.9 10.6,21.4 5.3,10.8 2.1,0.6" fill="#a9c04c"/>
<polygon transform="translate(191.85,220.2) scale(0.978,0.945)" points="0.8,1.0 1.8,18.2 3.4,26.6 9.4,35.0 17.9,42.5 28.5,48.8 39.1,53.5 39.1,54.1 31.7,46.6 23.2,38.2 16.9,29.9 10.6,21.4 5.3,10.8 2.1,0.6" fill="#35c3dd"/>
<polygon transform="translate(191.85,220.2) scale(0.978,0.945)" points="2.1,0.6 5.3,10.8 10.6,21.4 16.9,29.9 23.2,38.2 31.7,46.6 39.1,54.1 46.4,60.4 55.6,71.4 67.2,80.0 77.2,88.3 80.5,92.1 81.3,92.6 84.3,89.3 85.5,85.5 85.0,80.4 78.8,71.9 71.7,64.7 61.9,52.6 54.8,41.8 45.1,32.0 37.8,23.9 34.3,20.2 31.5,15.8 31.0,15.8 28.2,17.9 24.9,16.3 21.5,11.6 19.0,6.6 17.4,0.3" fill="#b4ca64"/>
<polygon transform="translate(191.85,220.2) scale(0.978,0.945)" points="17.4,0.3 19.0,6.6 21.5,11.6 24.9,16.3 28.2,17.9 31.0,15.8 31.8,9.9 31.5,0.3" fill="#6565c4"/>
<polygon transform="translate(191.85,220.2) scale(0.978,0.945)" points="32.7,0.3 36.5,0.3 44.0,5.0 50.6,10.3 60.6,15.8 70.5,20.7 78.8,24.9 85.7,30.4 89.4,32.9 92.7,36.5 96.9,40.7 100.2,46.5 99.4,52.3 94.4,55.6 87.7,56.1 77.8,52.8 70.5,46.8 62.2,40.2 52.3,33.5 44.0,28.2 38.1,24.9 34.8,19.9 32.7,11.6 32.7,0.3" fill="#687741"/>
<polygon transform="translate(191.85,220.2) scale(0.978,0.945)" points="39.3,25.6 44.0,28.2 52.3,33.5 62.2,40.2 70.5,46.8 77.8,52.8 87.7,56.1 94.4,55.6 96.4,60.6 98.9,67.1 97.7,73.2 94.5,78.0 88.6,80.4 85.2,81.4 85.0,80.4 78.8,71.9 71.7,64.7 61.9,52.6 54.8,41.8 45.1,32.0" fill="#b274ca"/>
<g clip-path="url(#cs1ALL)"><rect x="188.8" y="216.2" width="158" height="116" fill="#fff" filter="url(#spk)" opacity="1"/></g>
</g>
<use href="#oln" transform="translate(191.85,220.2) scale(0.978,0.945)"/>
<circle transform="translate(191.85,220.2) scale(0.978,0.945)" cx="34.3" cy="82.7" r="2.5" fill="#fff"/>
<text x="457.0" y="213.6" font-size="11.05" text-anchor="middle" fill="#141414">Neighbors-based</text>
<g clip-path="url(#cm2)">
<polygon transform="translate(366.0,219.0) scale(0.96,1.0)" points="-2.0,-3.0 152.4,-3.0 152.4,113.6 -2.0,113.6" fill="#dbdba4"/>
<polygon transform="translate(366.0,219.0) scale(0.96,1.0)" points="36.5,0.3 150.3,-0.0 150.3,30.7 145.8,34.9 141.7,32.4 134.2,30.7 128.4,32.4 125.1,37.3 117.6,34.9 106.8,30.7 94.4,30.7 89.4,32.9 85.7,30.4 78.8,24.9 70.5,20.7 60.6,15.8 50.6,10.3 44.0,5.0" fill="#84dae9"/>
<polygon transform="translate(366.0,219.0) scale(0.96,1.0)" points="-0.0,41.5 4.9,44.8 9.1,52.3 14.1,58.9 18.2,63.1 20.4,68.1 19.0,73.9 14.9,78.0 9.1,80.5 5.8,84.7 3.8,91.0 -0.0,91.0" fill="#a3ba55"/>
<polygon transform="translate(366.0,219.0) scale(0.96,1.0)" points="16.6,46.5 16.6,56.4 18.2,63.1 20.4,68.1 19.0,73.9 14.9,78.0 9.1,80.5 5.8,84.7 3.8,91.0 5.8,90.5 17.4,91.0 29.0,92.1 35.7,94.1 45.6,92.6 58.9,90.5 68.9,91.3 75.5,93.0 78.8,96.3 80.5,92.1 77.2,88.3 67.2,80.0 55.6,71.4 45.6,63.1 46.4,63.9 44.0,65.6 37.3,67.2 31.5,65.6 27.0,63.4 25.0,58.9 24.0,53.1 23.2,48.8 16.6,46.5" fill="#a3ba55"/>
<polygon transform="translate(366.0,219.0) scale(0.96,1.0)" points="-0.0,-0.0 0.3,2.3 0.9,16.1 2.4,26.9 7.8,34.9 15.7,42.8 16.6,46.5 16.6,56.4 18.2,63.1 18.2,63.1 14.1,58.9 9.1,52.3 4.9,44.8 -0.0,41.5" fill="#a052b9"/>
<polygon transform="translate(366.0,219.0) scale(0.96,1.0)" points="-0.0,34.0 0.9,19.9 2.4,26.9 7.8,34.9 15.7,42.8 16.6,46.5 16.6,56.4 18.2,63.1 18.2,63.1 14.1,58.9 9.1,52.3 4.9,44.8 -0.0,41.5" fill="#55c9a3"/>
<polygon transform="translate(366.0,219.0) scale(0.96,1.0)" points="0.3,2.3 0.9,16.1 2.4,26.9 7.8,34.9 15.7,42.8 23.2,48.5 29.0,52.3 37.3,56.1 45.6,63.1 46.4,60.4 39.1,54.1 31.7,46.6 23.2,38.2 16.9,29.9 10.6,21.4 5.3,10.8 2.1,0.6" fill="#7c2c7c"/>
<polygon transform="translate(366.0,219.0) scale(0.96,1.0)" points="23.2,48.5 29.0,52.3 37.3,56.1 45.6,63.1 46.4,63.9 44.0,65.6 37.3,67.2 31.5,65.6 27.0,63.4 25.0,58.9 24.0,53.1 23.2,48.8" fill="#55c9a3"/>
<polygon points="364.7,263.5 370.1,264.8 374.3,272.3 379.3,278.9 383.4,283.1 385.4,288.1 383.4,293.0 377.6,295.0 371.0,296.7 364.7,298.9" fill="#e8717d"/>
<polygon points="380.6,264.2 387.6,268.5 388.6,273.1 389.6,278.9 391.6,283.4 385.9,287.4 383.1,283.1 381.3,276.4 381.3,266.5" fill="#55c9a3"/>
<polygon transform="translate(366.0,219.0) scale(0.96,1.0)" points="2.1,0.6 5.3,10.8 10.6,21.4 16.9,29.9 23.2,38.2 31.7,46.6 39.1,54.1 46.4,60.4 55.6,71.4 67.2,80.0 77.2,88.3 80.5,92.1 81.3,92.6 84.3,89.3 85.5,85.5 85.0,80.4 78.8,71.9 71.7,64.7 61.9,52.6 54.8,41.8 45.1,32.0 37.8,23.9 34.3,20.2 31.5,15.8 31.0,15.8 28.2,17.9 24.9,16.3 21.5,11.6 19.0,6.6 17.4,0.3" fill="#8a84d4"/>
<polygon transform="translate(366.0,219.0) scale(0.96,1.0)" points="17.4,0.3 19.0,6.6 21.5,11.6 24.9,16.3 28.2,17.9 31.0,15.8 31.8,9.9 31.5,0.3" fill="#e356b6"/>
<polygon transform="translate(366.0,219.0) scale(0.96,1.0)" points="32.7,0.3 36.5,0.3 44.0,5.0 50.6,10.3 60.6,15.8 70.5,20.7 78.8,24.9 85.7,30.4 89.4,32.9 92.7,36.5 96.9,40.7 100.2,46.5 99.4,52.3 94.4,55.6 87.7,56.1 77.8,52.8 70.5,46.8 62.2,40.2 52.3,33.5 44.0,28.2 38.1,24.9 34.8,19.9 32.7,11.6 32.7,0.3" fill="#a4c594"/>
<polygon transform="translate(366.0,219.0) scale(0.96,1.0)" points="39.3,25.6 44.0,28.2 52.3,33.5 62.2,40.2 70.5,46.8 77.8,52.8 87.7,56.1 94.4,55.6 96.4,60.6 98.9,67.1 97.7,73.2 94.5,78.0 88.6,80.4 85.2,81.4 85.0,80.4 78.8,71.9 71.7,64.7 61.9,52.6 54.8,41.8 45.1,32.0" fill="#e84e4e"/>
<polygon points="423.3,299.7 429.1,296.4 434.1,301.4 440.7,307.7 444.9,313.0 451.5,321.3 453.2,323.8 457.4,325.4 448.3,323.8 438.3,316.3 439.0,312.6 430.7,310.8 424.9,310.0" fill="#a646b6"/>
<polygon points="458.2,317.6 511.4,316.6 511.4,325.4 468.2,325.4 462.4,322.9" fill="#3e4e26"/>
<polygon points="504.2,264.5 507.4,264.5 508.4,278.9 505.1,278.9" fill="#a658c4"/>
<polygon points="497.3,316.6 504.7,316.6 505.6,321.3 498.1,321.3" fill="#a646b6"/>
<g clip-path="url(#cs2ALL)"><rect x="363.0" y="215.0" width="158" height="116" fill="#fff" filter="url(#spk)" opacity="1"/></g>
</g>
<use href="#oln" transform="translate(366.0,219.0) scale(0.96,1.0)"/>
<circle transform="translate(366.0,219.0) scale(0.96,1.0)" cx="34.3" cy="82.7" r="2.5" fill="#fff"/>
<text x="617.5" y="213.6" font-size="11.05" text-anchor="middle" fill="#141414">STAGATE</text>
<g clip-path="url(#cm3)">
<polygon transform="translate(535.8,220.3) scale(0.962,1.0)" points="-2.0,-3.0 152.4,-3.0 152.4,113.6 -2.0,113.6" fill="#a9deeb"/>
<polygon transform="translate(535.8,220.3) scale(0.962,1.0)" points="36.5,0.3 150.3,-0.0 150.3,30.7 145.8,34.9 141.7,32.4 134.2,30.7 128.4,32.4 125.1,37.3 117.6,34.9 106.8,30.7 94.4,30.7 89.4,32.9 85.7,30.4 78.8,24.9 70.5,20.7 60.6,15.8 50.6,10.3 44.0,5.0" fill="#dcc8e6"/>
<polygon points="595.0,220.0 681.4,220.0 681.4,228.3 661.4,226.6 644.8,233.3 628.2,225.0 611.6,229.9 595.0,225.0" fill="#e0c4e2"/>
<polygon transform="translate(535.8,220.3) scale(0.962,1.0)" points="2.1,0.6 5.3,10.8 10.6,21.4 16.9,29.9 23.2,38.2 31.7,46.6 39.1,54.1 46.4,60.4 55.6,71.4 67.2,80.0 77.2,88.3 80.5,92.1 81.3,92.6 84.3,89.3 85.5,85.5 85.0,80.4 78.8,71.9 71.7,64.7 61.9,52.6 54.8,41.8 45.1,32.0 37.8,23.9 34.3,20.2 31.5,15.8 31.0,15.8 28.2,17.9 24.9,16.3 21.5,11.6 19.0,6.6 17.4,0.3" fill="#dfc0df"/>
<polygon transform="translate(535.8,220.3) scale(0.962,1.0)" points="39.3,25.6 44.0,28.2 52.3,33.5 62.2,40.2 70.5,46.8 77.8,52.8 87.7,56.1 94.4,55.6 96.4,60.6 98.9,67.1 97.7,73.2 94.5,78.0 88.6,80.4 85.2,81.4 85.0,80.4 78.8,71.9 71.7,64.7 61.9,52.6 54.8,41.8 45.1,32.0" fill="#d8c4e0"/>
<polygon transform="translate(535.8,220.3) scale(0.962,1.0)" points="-0.0,-0.0 0.3,2.3 0.9,16.1 2.4,26.9 7.8,34.9 15.7,42.8 16.6,46.5 16.6,56.4 18.2,63.1 18.2,63.1 14.1,58.9 9.1,52.3 4.9,44.8 -0.0,41.5" fill="#52d0ba"/>
<polygon transform="translate(535.8,220.3) scale(0.962,1.0)" points="0.3,2.3 0.9,16.1 2.4,26.9 7.8,34.9 15.7,42.8 23.2,48.5 29.0,52.3 37.3,56.1 45.6,63.1 46.4,60.4 39.1,54.1 31.7,46.6 23.2,38.2 16.9,29.9 10.6,21.4 5.3,10.8 2.1,0.6" fill="#4cc4e4"/>
<polygon transform="translate(535.8,220.3) scale(0.962,1.0)" points="-0.0,34.0 0.9,19.9 2.4,26.9 7.8,34.9 15.7,42.8 16.6,46.5 16.6,56.4 18.2,63.1 18.2,63.1 14.1,58.9 9.1,52.3 4.9,44.8 -0.0,41.5" fill="#b5d040"/>
<polygon transform="translate(535.8,220.3) scale(0.962,1.0)" points="-0.0,41.5 4.9,44.8 9.1,52.3 14.1,58.9 18.2,63.1 20.4,68.1 19.0,73.9 14.9,78.0 9.1,80.5 5.8,84.7 3.8,91.0 -0.0,91.0" fill="#a86aa4"/>
<polygon transform="translate(535.8,220.3) scale(0.962,1.0)" points="16.6,46.5 16.6,56.4 18.2,63.1 20.4,68.1 19.0,73.9 14.9,78.0 9.1,80.5 5.8,84.7 3.8,91.0 5.8,90.5 17.4,91.0 29.0,92.1 35.7,94.1 45.6,92.6 58.9,90.5 68.9,91.3 75.5,93.0 78.8,96.3 80.5,92.1 77.2,88.3 67.2,80.0 55.6,71.4 45.6,63.1 46.4,63.9 44.0,65.6 37.3,67.2 31.5,65.6 27.0,63.4 25.0,58.9 24.0,53.1 23.2,48.8 16.6,46.5" fill="#62d8c8"/>
<polygon transform="translate(535.8,220.3) scale(0.962,1.0)" points="23.2,48.5 29.0,52.3 37.3,56.1 45.6,63.1 46.4,63.9 44.0,65.6 37.3,67.2 31.5,65.6 27.0,63.4 25.0,58.9 24.0,53.1 23.2,48.8" fill="#84d2e8"/>
<polygon points="535.2,269.8 541.0,268.1 547.6,278.1 553.4,283.1 554.2,293.0 547.6,296.4 535.2,294.7" fill="#9c3c92"/>
<polygon points="539.3,301.4 550.9,298.0 564.2,303.0 577.5,301.4 585.8,305.5 594.1,298.0 602.4,299.7 610.7,308.0 597.4,311.6 580.8,313.0 570.9,314.6 552.6,311.6 539.3,311.3" fill="#94308a"/>
<polygon points="604.1,272.3 614.9,276.1 621.6,275.6 626.6,287.1 625.2,293.2 621.7,298.0 612.4,301.7 605.0,293.0 599.2,284.7" fill="#a9deeb"/>
<g clip-path="url(#cs3BP)"><rect x="532.8" y="216.3" width="158" height="116" fill="#fff" filter="url(#cyspk)" opacity="1"/></g>
<g clip-path="url(#cs3OB)"><rect x="532.8" y="216.3" width="158" height="116" fill="#fff" filter="url(#cyspk)" opacity="0.6"/></g>
<g clip-path="url(#cs3MV)"><rect x="532.8" y="216.3" width="158" height="116" fill="#fff" filter="url(#mvspk)" opacity="0.8"/></g>
<g clip-path="url(#cs3MR)"><rect x="532.8" y="216.3" width="158" height="116" fill="#fff" filter="url(#mvspk)" opacity="0.8"/></g>
<g clip-path="url(#cs3PL)"><rect x="532.8" y="216.3" width="158" height="116" fill="#fff" filter="url(#cyspk)" opacity="0.9"/></g>
<polygon transform="translate(535.8,220.3) scale(0.962,1.0)" points="17.4,0.3 19.0,6.6 21.5,11.6 24.9,16.3 28.2,17.9 31.0,15.8 31.8,9.9 31.5,0.3" fill="#586896"/>
<polygon transform="translate(535.8,220.3) scale(0.962,1.0)" points="32.7,0.3 36.5,0.3 44.0,5.0 50.6,10.3 60.6,15.8 70.5,20.7 78.8,24.9 85.7,30.4 89.4,32.9 92.7,36.5 96.9,40.7 100.2,46.5 99.4,52.3 94.4,55.6 87.7,56.1 77.8,52.8 70.5,46.8 62.2,40.2 52.3,33.5 44.0,28.2 38.1,24.9 34.8,19.9 32.7,11.6 32.7,0.3" fill="#a4daea"/>
<polygon points="570.9,227.5 576.7,229.1 585.8,238.2 600.7,250.7 615.7,264.8 618.2,270.6 613.2,269.0 600.7,258.2 585.8,246.6 575.0,236.6" fill="#56669a"/>
<polygon points="595.0,250.7 601.6,254.9 611.6,263.2 615.8,269.0 611.6,269.0 601.6,262.3 595.0,257.3" fill="#56669a"/>
<polygon points="586.6,257.3 592.4,256.5 602.4,264.8 614.0,278.1 619.0,288.1 617.4,293.0 609.0,288.1 599.1,276.4 590.8,266.5" fill="#912a5a"/>
<polygon points="595.0,261.5 601.6,264.8 611.6,276.4 616.6,288.1 615.8,294.7 609.9,291.4 601.6,281.4 595.0,274.8" fill="#912a5a"/>
<polygon points="595.0,298.0 601.6,298.0 605.0,304.7 595.0,308.0" fill="#94308a"/>
<polygon points="639.8,301.4 644.8,298.9 651.5,301.4 653.5,308.0 650.6,314.3 644.0,315.5 639.5,310.5" fill="#8080d2"/>
<polygon points="624.9,315.5 673.0,315.5 673.0,325.4 628.2,325.4 621.6,321.3" fill="#78dcc4"/>
<polygon points="604.1,310.0 621.5,322.1 628.2,325.4 614.9,325.4 601.6,314.6" fill="#84c264"/>
<polygon points="668.1,319.6 681.4,319.6 681.4,325.4 668.1,325.4" fill="#a4ba34"/>
<polygon points="673.9,264.8 677.2,264.8 675.5,281.4 673.9,281.4" fill="#a4e294"/>
<g clip-path="url(#cs3ALL)"><rect x="532.8" y="216.3" width="158" height="116" fill="#fff" filter="url(#spk)" opacity="1"/></g>
</g>
<use href="#oln" transform="translate(535.8,220.3) scale(0.962,1.0)"/>
<circle transform="translate(535.8,220.3) scale(0.962,1.0)" cx="34.3" cy="82.7" r="2.5" fill="#fff"/>
<text x="100.4" y="350.0" font-size="11.05" text-anchor="middle" fill="#141414">Spacell</text>
<g clip-path="url(#cm4)">
<polygon transform="translate(14.1,361.2) scale(0.986,0.845)" points="-2.0,-3.0 152.4,-3.0 152.4,113.6 -2.0,113.6" fill="#dfdda6"/>
<polygon transform="translate(14.1,361.2) scale(0.986,0.845)" points="-0.0,-0.0 0.3,2.3 0.9,16.1 2.4,26.9 7.8,34.9 15.7,42.8 16.6,46.5 16.6,56.4 18.2,63.1 18.2,63.1 14.1,58.9 9.1,52.3 4.9,44.8 -0.0,41.5" fill="#d8484c"/>
<polygon transform="translate(14.1,361.2) scale(0.986,0.845)" points="-0.0,34.0 0.9,19.9 2.4,26.9 7.8,34.9 15.7,42.8 16.6,46.5 16.6,56.4 18.2,63.1 18.2,63.1 14.1,58.9 9.1,52.3 4.9,44.8 -0.0,41.5" fill="#94c294"/>
<polygon transform="translate(14.1,361.2) scale(0.986,0.845)" points="0.3,2.3 0.9,16.1 2.4,26.9 7.8,34.9 15.7,42.8 23.2,48.5 29.0,52.3 37.3,56.1 45.6,63.1 46.4,60.4 39.1,54.1 31.7,46.6 23.2,38.2 16.9,29.9 10.6,21.4 5.3,10.8 2.1,0.6" fill="#e04040"/>
<polygon transform="translate(14.1,361.2) scale(0.986,0.845)" points="0.8,1.0 1.8,18.2 3.4,26.6 9.4,35.0 17.9,42.5 28.5,48.8 39.1,53.5 39.1,54.1 31.7,46.6 23.2,38.2 16.9,29.9 10.6,21.4 5.3,10.8 2.1,0.6" fill="#7464d2"/>
<polygon transform="translate(14.1,361.2) scale(0.986,0.845)" points="-0.0,41.5 4.9,44.8 9.1,52.3 14.1,58.9 18.2,63.1 20.4,68.1 19.0,73.9 14.9,78.0 9.1,80.5 5.8,84.7 3.8,91.0 -0.0,91.0" fill="#bb90bb"/>
<polygon transform="translate(14.1,361.2) scale(0.986,0.845)" points="16.6,46.5 16.6,56.4 18.2,63.1 20.4,68.1 19.0,73.9 14.9,78.0 9.1,80.5 5.8,84.7 3.8,91.0 5.8,90.5 17.4,91.0 29.0,92.1 35.7,94.1 45.6,92.6 58.9,90.5 68.9,91.3 75.5,93.0 78.8,96.3 80.5,92.1 77.2,88.3 67.2,80.0 55.6,71.4 45.6,63.1 46.4,63.9 44.0,65.6 37.3,67.2 31.5,65.6 27.0,63.4 25.0,58.9 24.0,53.1 23.2,48.8 16.6,46.5" fill="#617745"/>
<polygon transform="translate(14.1,361.2) scale(0.986,0.845)" points="17.4,0.3 19.0,6.6 21.5,11.6 24.9,16.3 28.2,17.9 31.0,15.8 31.8,9.9 31.5,0.3" fill="#a858b6"/>
<polygon transform="translate(14.1,361.2) scale(0.986,0.845)" points="39.3,25.6 44.0,28.2 52.3,33.5 62.2,40.2 70.5,46.8 77.8,52.8 87.7,56.1 94.4,55.6 96.4,60.6 98.9,67.1 97.7,73.2 94.5,78.0 88.6,80.4 85.2,81.4 85.0,80.4 78.8,71.9 71.7,64.7 61.9,52.6 54.8,41.8 45.1,32.0" fill="#54d2a4"/>
<polygon points="56.2,382.4 61.1,383.2 66.1,389.0 62.8,389.9" fill="#dfdda6"/>
<polygon points="73.6,431.4 79.4,428.0 86.0,433.0 82.7,436.4 74.4,436.7" fill="#54c2e2"/>
<polygon points="52.8,435.5 74.4,436.0 86.0,435.0 98.5,443.0 90.0,443.0 101.6,448.3 113.2,453.0 162.5,454.3 162.5,455.6 113.2,454.6 99.9,450.0 86.6,444.7 91.0,441.3 71.1,438.3 52.8,437.7" fill="#e03030"/>
<polygon points="104.9,446.3 163.0,446.3 163.0,454.6 113.2,453.6" fill="#b444a4"/>
<polygon points="156.1,399.8 159.7,399.8 158.7,411.8 156.7,411.8" fill="#e04a4a"/>
<path transform="translate(14.1,361.2) scale(0.986,0.845)" d="M30.5 47.9 L37.9 55.4 L45.2 61.7 L54.4 72.7 L66.0 81.3 L76.0 89.6 L79.3 93.4" fill="none" stroke="#e03a3a" stroke-width="2.6" stroke-linecap="round" stroke-linejoin="round"/>
<path transform="translate(14.1,361.2) scale(0.986,0.845)" d="M1.4 28.0 L6.8 36.0 L14.7 43.9 L22.2 49.6 L28.0 53.4 L36.3 57.2 L44.6 64.2" fill="none" stroke="#e03a3a" stroke-width="2.4" stroke-linecap="round" stroke-linejoin="round"/>
<path transform="translate(14.1,361.2) scale(0.986,0.845)" d="M3.0 0.0 L6.2 10.2 L11.5 20.8 L17.8 29.3 L24.1 37.6 L32.6 46.0" fill="none" stroke="#e03a3a" stroke-width="1.5" stroke-linecap="round" stroke-linejoin="round"/>
<polygon transform="translate(14.1,361.2) scale(0.986,0.845)" points="-0.0,-0.0 3.4,-0.0 4.6,14.9 6.4,26.6 9.7,34.5 6.1,34.5 2.8,26.6 -0.0,19.9" fill="#e03a3a"/>
<g clip-path="url(#cs4ALL)"><rect x="11.1" y="357.2" width="158" height="116" fill="#fff" filter="url(#spk)" opacity="1"/></g>
</g>
<use href="#oln" transform="translate(14.1,361.2) scale(0.986,0.845)"/>
<circle transform="translate(14.1,361.2) scale(0.986,0.845)" cx="34.3" cy="82.7" r="2.5" fill="#fff"/>
<text x="271.3" y="350.0" font-size="11.05" text-anchor="middle" fill="#141414">deepST</text>
<g clip-path="url(#cm5)">
<polygon transform="translate(192.2,359.4) scale(1.0,0.8576)" points="-2.0,-3.0 152.4,-3.0 152.4,113.6 -2.0,113.6" fill="#a2be5c"/>
<polygon transform="translate(192.2,359.4) scale(1.0,0.8576)" points="36.5,0.3 150.3,-0.0 150.3,30.7 145.8,34.9 141.7,32.4 134.2,30.7 128.4,32.4 125.1,37.3 117.6,34.9 106.8,30.7 94.4,30.7 89.4,32.9 85.7,30.4 78.8,24.9 70.5,20.7 60.6,15.8 50.6,10.3 44.0,5.0" fill="#fbf2f9"/>
<polygon transform="translate(192.2,359.4) scale(1.0,0.8576)" points="89.4,32.9 94.4,30.7 106.8,30.7 111.3,39.0 117.3,44.8 120.1,54.8 124.6,66.4 116.0,72.2 107.7,79.7 101.8,88.8 97.7,94.6 92.7,99.6 84.4,100.8 80.3,93.8 81.3,92.6 84.2,89.3 85.4,85.5 85.2,81.4 88.6,80.4 94.5,78.0 97.7,73.2 98.9,67.1 96.4,60.6 94.4,55.6 99.4,52.3 100.2,46.5 96.9,40.7 92.7,36.5" fill="#ccd496"/>
<polygon transform="translate(192.2,359.4) scale(1.0,0.8576)" points="106.8,30.7 117.6,34.9 125.1,37.3 127.6,44.0 131.7,48.1 138.4,45.6 141.2,42.3 145.8,34.9 150.3,30.7 150.3,100.4 97.7,100.4 97.7,94.6 101.8,88.8 107.7,79.7 116.0,72.2 124.6,66.4 120.1,54.8 117.3,44.8 111.3,39.0" fill="#94b548"/>
<polygon transform="translate(192.2,359.4) scale(1.0,0.8576)" points="-0.0,41.5 4.9,44.8 9.1,52.3 14.1,58.9 18.2,63.1 20.4,68.1 19.0,73.9 14.9,78.0 9.1,80.5 5.8,84.7 3.8,91.0 -0.0,91.0" fill="#8b7fd8"/>
<polygon transform="translate(192.2,359.4) scale(1.0,0.8576)" points="16.6,46.5 16.6,56.4 18.2,63.1 20.4,68.1 19.0,73.9 14.9,78.0 9.1,80.5 5.8,84.7 3.8,91.0 5.8,90.5 17.4,91.0 29.0,92.1 35.7,94.1 45.6,92.6 58.9,90.5 68.9,91.3 75.5,93.0 78.8,96.3 80.5,92.1 77.2,88.3 67.2,80.0 55.6,71.4 45.6,63.1 46.4,63.9 44.0,65.6 37.3,67.2 31.5,65.6 27.0,63.4 25.0,58.9 24.0,53.1 23.2,48.8 16.6,46.5" fill="#8478d6"/>
<polygon transform="translate(192.2,359.4) scale(1.0,0.8576)" points="-0.0,-0.0 0.3,2.3 0.9,16.1 2.4,26.9 7.8,34.9 15.7,42.8 16.6,46.5 16.6,56.4 18.2,63.1 18.2,63.1 14.1,58.9 9.1,52.3 4.9,44.8 -0.0,41.5" fill="#e03232"/>
<polygon transform="translate(192.2,359.4) scale(1.0,0.8576)" points="-0.0,34.0 0.9,19.9 2.4,26.9 7.8,34.9 15.7,42.8 16.6,46.5 16.6,56.4 18.2,63.1 18.2,63.1 14.1,58.9 9.1,52.3 4.9,44.8 -0.0,41.5" fill="#58ca9a"/>
<polygon transform="translate(192.2,359.4) scale(1.0,0.8576)" points="0.3,2.3 0.9,16.1 2.4,26.9 7.8,34.9 15.7,42.8 23.2,48.5 29.0,52.3 37.3,56.1 45.6,63.1 46.4,60.4 39.1,54.1 31.7,46.6 23.2,38.2 16.9,29.9 10.6,21.4 5.3,10.8 2.1,0.6" fill="#e03a3a"/>
<polygon transform="translate(192.2,359.4) scale(1.0,0.8576)" points="0.8,1.0 1.8,18.2 3.4,26.6 9.4,35.0 17.9,42.5 28.5,48.8 39.1,53.5 39.1,54.1 31.7,46.6 23.2,38.2 16.9,29.9 10.6,21.4 5.3,10.8 2.1,0.6" fill="#aa4aca"/>
<polygon transform="translate(192.2,359.4) scale(1.0,0.8576)" points="23.2,48.5 29.0,52.3 37.3,56.1 45.6,63.1 46.4,63.9 44.0,65.6 37.3,67.2 31.5,65.6 27.0,63.4 25.0,58.9 24.0,53.1 23.2,48.8" fill="#e6b0aa"/>
<polygon transform="translate(192.2,359.4) scale(1.0,0.8576)" points="2.1,0.6 5.3,10.8 10.6,21.4 16.9,29.9 23.2,38.2 31.7,46.6 39.1,54.1 46.4,60.4 55.6,71.4 67.2,80.0 77.2,88.3 80.5,92.1 81.3,92.6 84.3,89.3 85.5,85.5 85.0,80.4 78.8,71.9 71.7,64.7 61.9,52.6 54.8,41.8 45.1,32.0 37.8,23.9 34.3,20.2 31.5,15.8 31.0,15.8 28.2,17.9 24.9,16.3 21.5,11.6 19.0,6.6 17.4,0.3" fill="#ecebbd"/>
<polygon transform="translate(192.2,359.4) scale(1.0,0.8576)" points="17.4,0.3 19.0,6.6 21.5,11.6 24.9,16.3 28.2,17.9 31.0,15.8 31.8,9.9 31.5,0.3" fill="#b6b878"/>
<polygon transform="translate(192.2,359.4) scale(1.0,0.8576)" points="32.7,0.3 36.5,0.3 44.0,5.0 50.6,10.3 60.6,15.8 70.5,20.7 78.8,24.9 85.7,30.4 89.4,32.9 92.7,36.5 96.9,40.7 100.2,46.5 99.4,52.3 94.4,55.6 87.7,56.1 77.8,52.8 70.5,46.8 62.2,40.2 52.3,33.5 44.0,28.2 38.1,24.9 34.8,19.9 32.7,11.6 32.7,0.3" fill="#9fad6e"/>
<polygon transform="translate(192.2,359.4) scale(1.0,0.8576)" points="39.3,25.6 44.0,28.2 52.3,33.5 62.2,40.2 70.5,46.8 77.8,52.8 87.7,56.1 94.4,55.6 96.4,60.6 98.9,67.1 97.7,73.2 94.5,78.0 88.6,80.4 85.2,81.4 85.0,80.4 78.8,71.9 71.7,64.7 61.9,52.6 54.8,41.8 45.1,32.0" fill="#cfd29a"/>
<polygon points="237.8,384.0 242.8,385.7 252.8,395.7 266.0,406.5 278.5,418.1 278.5,424.7 267.7,416.4 254.4,404.8 244.5,394.8" fill="#ba62ca"/>
<polygon points="258.0,396.5 263.0,399.8 272.9,413.1 274.6,419.7 269.6,416.4 261.3,408.1 258.0,404.8" fill="#ba62ca"/>
<polygon points="252.8,430.5 257.7,429.4 261.9,431.4 261.1,434.7 254.4,435.0" fill="#b2a232"/>
<polygon points="261.1,436.4 269.4,439.7 278.5,445.5 266.3,443.3 274.6,448.3 284.6,450.5 284.6,446.3 274.6,444.7 264.6,439.7" fill="#a844c4"/>
<polygon points="284.6,446.3 329.4,446.3 343.5,447.1 343.5,454.9 329.4,454.1 291.2,452.5 284.6,450.5" fill="#4d5d2a"/>
<polygon points="326.1,446.6 336.0,447.1 336.0,452.1" fill="#e244c4"/>
<polygon points="335.7,400.1 339.4,400.1 338.0,413.9 336.4,413.9" fill="#e63c3c"/>
<ellipse transform="translate(192.2,359.4) scale(1.0,0.8576)" cx="134.2" cy="39.5" rx="8.0" ry="8.3" fill="#9ebb55"/>
<g clip-path="url(#cs5PM)"><rect x="189.2" y="355.4" width="158" height="116" fill="#fff" filter="url(#khspk)" opacity="0.9"/></g>
<g clip-path="url(#cs5PM)"><rect x="189.2" y="355.4" width="158" height="116" fill="#fff" filter="url(#cyspk)" opacity="0.45"/></g>
<g clip-path="url(#cs5MV)"><rect x="189.2" y="355.4" width="158" height="116" fill="#fff" filter="url(#khspk)" opacity="0.8"/></g>
<g clip-path="url(#cs5MR)"><rect x="189.2" y="355.4" width="158" height="116" fill="#fff" filter="url(#olspk)" opacity="0.5"/></g>
<g clip-path="url(#cs5CB)"><rect x="189.2" y="355.4" width="158" height="116" fill="#fff" filter="url(#cyspk)" opacity="0.4"/></g>
<g clip-path="url(#cs5PL)"><rect x="189.2" y="355.4" width="158" height="116" fill="#fff" filter="url(#cyspk)" opacity="0.4"/></g>
<path transform="translate(192.2,359.4) scale(1.0,0.8576)" d="M0.3 2.3 L0.9 16.1 L2.4 26.9 L7.8 34.9 L15.7 42.8 L23.2 48.5 L29.0 52.3 L37.3 56.1" fill="none" stroke="#e03232" stroke-width="2.6" stroke-linecap="round" stroke-linejoin="round"/>
<path transform="translate(192.2,359.4) scale(1.0,0.8576)" d="M39.1 54.1 L46.4 60.4 L55.6 71.4 L67.2 80.0 L77.2 88.3 L80.5 92.1" fill="none" stroke="#c050b0" stroke-width="1.6" stroke-linecap="round" stroke-linejoin="round"/>
<polygon transform="translate(192.2,359.4) scale(1.0,0.8576)" points="-0.0,-0.0 3.4,-0.0 4.6,14.9 6.4,26.6 9.7,34.5 6.1,34.5 2.8,26.6 -0.0,19.9" fill="#e03232"/>
<g clip-path="url(#cs5ALL)"><rect x="189.2" y="355.4" width="158" height="116" fill="#fff" filter="url(#cspk)" opacity="1"/></g>
<g clip-path="url(#cs5BP)"><rect x="189.2" y="355.4" width="158" height="116" fill="#fff" filter="url(#pspk)" opacity="1"/></g>
<g clip-path="url(#cs5ALL)"><rect x="189.2" y="355.4" width="158" height="116" fill="#fff" filter="url(#spk)" opacity="1"/></g>
</g>
<use href="#oln" transform="translate(192.2,359.4) scale(1.0,0.8576)"/>
<circle transform="translate(192.2,359.4) scale(1.0,0.8576)" cx="34.3" cy="82.7" r="2.5" fill="#fff"/>
<text x="438.9" y="350.0" font-size="11.05" text-anchor="middle" fill="#141414">Banksy</text>
<g clip-path="url(#cm6)">
<polygon transform="translate(367.9,359.4) scale(0.98,0.898)" points="-2.0,-3.0 152.4,-3.0 152.4,113.6 -2.0,113.6" fill="#c091c0"/>
<polygon transform="translate(367.9,359.4) scale(0.98,0.898)" points="36.5,0.3 150.3,-0.0 150.3,30.7 145.8,34.9 141.7,32.4 134.2,30.7 128.4,32.4 125.1,37.3 117.6,34.9 106.8,30.7 94.4,30.7 89.4,32.9 85.7,30.4 78.8,24.9 70.5,20.7 60.6,15.8 50.6,10.3 44.0,5.0" fill="#ad5c7e"/>
<polygon transform="translate(367.9,359.4) scale(0.98,0.898)" points="89.4,32.9 94.4,30.7 106.8,30.7 111.3,39.0 117.3,44.8 120.1,54.8 124.6,66.4 116.0,72.2 107.7,79.7 101.8,88.8 97.7,94.6 92.7,99.6 84.4,100.8 80.3,93.8 81.3,92.6 84.2,89.3 85.4,85.5 85.2,81.4 88.6,80.4 94.5,78.0 97.7,73.2 98.9,67.1 96.4,60.6 94.4,55.6 99.4,52.3 100.2,46.5 96.9,40.7 92.7,36.5" fill="#d4b0d4"/>
<polygon transform="translate(367.9,359.4) scale(0.98,0.898)" points="-0.0,41.5 4.9,44.8 9.1,52.3 14.1,58.9 18.2,63.1 20.4,68.1 19.0,73.9 14.9,78.0 9.1,80.5 5.8,84.7 3.8,91.0 -0.0,91.0" fill="#5ad6c6"/>
<polygon transform="translate(367.9,359.4) scale(0.98,0.898)" points="16.6,46.5 16.6,56.4 18.2,63.1 20.4,68.1 19.0,73.9 14.9,78.0 9.1,80.5 5.8,84.7 3.8,91.0 5.8,90.5 17.4,91.0 29.0,92.1 35.7,94.1 45.6,92.6 58.9,90.5 68.9,91.3 75.5,93.0 78.8,96.3 80.5,92.1 77.2,88.3 67.2,80.0 55.6,71.4 45.6,63.1 46.4,63.9 44.0,65.6 37.3,67.2 31.5,65.6 27.0,63.4 25.0,58.9 24.0,53.1 23.2,48.8 16.6,46.5" fill="#5ad6c6"/>
<polygon transform="translate(367.9,359.4) scale(0.98,0.898)" points="-0.0,-0.0 0.3,2.3 0.9,16.1 2.4,26.9 7.8,34.9 15.7,42.8 16.6,46.5 16.6,56.4 18.2,63.1 18.2,63.1 14.1,58.9 9.1,52.3 4.9,44.8 -0.0,41.5" fill="#3a4a7a"/>
<polygon transform="translate(367.9,359.4) scale(0.98,0.898)" points="-0.0,34.0 0.9,19.9 2.4,26.9 7.8,34.9 15.7,42.8 16.6,46.5 16.6,56.4 18.2,63.1 18.2,63.1 14.1,58.9 9.1,52.3 4.9,44.8 -0.0,41.5" fill="#6abae2"/>
<polygon transform="translate(367.9,359.4) scale(0.98,0.898)" points="0.3,2.3 0.9,16.1 2.4,26.9 7.8,34.9 15.7,42.8 23.2,48.5 29.0,52.3 37.3,56.1 45.6,63.1 46.4,60.4 39.1,54.1 31.7,46.6 23.2,38.2 16.9,29.9 10.6,21.4 5.3,10.8 2.1,0.6" fill="#842c7c"/>
<polygon transform="translate(367.9,359.4) scale(0.98,0.898)" points="23.2,48.5 29.0,52.3 37.3,56.1 45.6,63.1 46.4,63.9 44.0,65.6 37.3,67.2 31.5,65.6 27.0,63.4 25.0,58.9 24.0,53.1 23.2,48.8" fill="#84cae8"/>
<polygon transform="translate(367.9,359.4) scale(0.98,0.898)" points="2.1,0.6 5.3,10.8 10.6,21.4 16.9,29.9 23.2,38.2 31.7,46.6 39.1,54.1 46.4,60.4 55.6,71.4 67.2,80.0 77.2,88.3 80.5,92.1 81.3,92.6 84.3,89.3 85.5,85.5 85.0,80.4 78.8,71.9 71.7,64.7 61.9,52.6 54.8,41.8 45.1,32.0 37.8,23.9 34.3,20.2 31.5,15.8 31.0,15.8 28.2,17.9 24.9,16.3 21.5,11.6 19.0,6.6 17.4,0.3" fill="#e3c6e3"/>
<polygon transform="translate(367.9,359.4) scale(0.98,0.898)" points="17.4,0.3 19.0,6.6 21.5,11.6 24.9,16.3 28.2,17.9 31.0,15.8 31.8,9.9 31.5,0.3" fill="#9ad284"/>
<polygon transform="translate(367.9,359.4) scale(0.98,0.898)" points="32.7,0.3 36.5,0.3 44.0,5.0 50.6,10.3 60.6,15.8 70.5,20.7 78.8,24.9 85.7,30.4 89.4,32.9 92.7,36.5 96.9,40.7 100.2,46.5 99.4,52.3 94.4,55.6 87.7,56.1 77.8,52.8 70.5,46.8 62.2,40.2 52.3,33.5 44.0,28.2 38.1,24.9 34.8,19.9 32.7,11.6 32.7,0.3" fill="#b6e9e9"/>
<polygon transform="translate(367.9,359.4) scale(0.98,0.898)" points="39.3,25.6 44.0,28.2 52.3,33.5 62.2,40.2 70.5,46.8 77.8,52.8 87.7,56.1 94.4,55.6 96.4,60.6 98.9,67.1 97.7,73.2 94.5,78.0 88.6,80.4 85.2,81.4 85.0,80.4 78.8,71.9 71.7,64.7 61.9,52.6 54.8,41.8 45.1,32.0" fill="#6adcba"/>
<polygon points="447.6,404.0 452.9,407.3 460.4,408.1 464.9,415.6 464.2,423.1 460.9,428.4 451.3,431.0 449.9,423.1 448.9,413.1" fill="#c9a3c9"/>
<polygon points="426.1,436.4 432.7,431.4 441.0,436.4 446.0,443.0 441.0,448.0 429.4,443.0" fill="#bada54"/>
<polygon points="436.1,443.0 446.0,444.7 453.5,451.3 443.0,448.0 454.6,453.3 466.2,456.3 466.2,450.5 454.6,449.6 441.3,443.0" fill="#bada54"/>
<polygon points="466.2,449.6 516.9,449.6 516.9,458.8 466.2,456.6" fill="#5a5ac2"/>
<polygon points="476.5,436.4 479.5,432.2 484.5,433.0 486.5,438.0 483.6,443.0 478.7,441.7" fill="#72d2ea"/>
<polygon points="509.7,399.8 512.7,399.8 512.0,413.9 510.4,413.9" fill="#3a5a7a"/>
<g clip-path="url(#cs6ALL)"><rect x="364.9" y="355.4" width="158" height="116" fill="#fff" filter="url(#spk)" opacity="1"/></g>
</g>
<use href="#oln" transform="translate(367.9,359.4) scale(0.98,0.898)"/>
<circle transform="translate(367.9,359.4) scale(0.98,0.898)" cx="34.3" cy="82.7" r="2.5" fill="#fff"/>
<text x="621.5" y="350.0" font-size="11.05" text-anchor="middle" fill="#141414">SpaGCN</text>
<g clip-path="url(#cm7)">
<polygon transform="translate(537.2,361.2) scale(0.979,0.905)" points="-2.0,-3.0 152.4,-3.0 152.4,113.6 -2.0,113.6" fill="#aac662"/>
<polygon transform="translate(537.2,361.2) scale(0.979,0.905)" points="36.5,0.3 150.3,-0.0 150.3,30.7 145.8,34.9 141.7,32.4 134.2,30.7 128.4,32.4 125.1,37.3 117.6,34.9 106.8,30.7 94.4,30.7 89.4,32.9 85.7,30.4 78.8,24.9 70.5,20.7 60.6,15.8 50.6,10.3 44.0,5.0" fill="#f4e8f6"/>
<polygon transform="translate(537.2,361.2) scale(0.979,0.905)" points="89.4,32.9 94.4,30.7 106.8,30.7 111.3,39.0 117.3,44.8 120.1,54.8 124.6,66.4 116.0,72.2 107.7,79.7 101.8,88.8 97.7,94.6 92.7,99.6 84.4,100.8 80.3,93.8 81.3,92.6 84.2,89.3 85.4,85.5 85.2,81.4 88.6,80.4 94.5,78.0 97.7,73.2 98.9,67.1 96.4,60.6 94.4,55.6 99.4,52.3 100.2,46.5 96.9,40.7 92.7,36.5" fill="#cdd89c"/>
<polygon transform="translate(537.2,361.2) scale(0.979,0.905)" points="106.8,30.7 117.6,34.9 125.1,37.3 127.6,44.0 131.7,48.1 138.4,45.6 141.2,42.3 145.8,34.9 150.3,30.7 150.3,100.4 97.7,100.4 97.7,94.6 101.8,88.8 107.7,79.7 116.0,72.2 124.6,66.4 120.1,54.8 117.3,44.8 111.3,39.0" fill="#aac662"/>
<polygon transform="translate(537.2,361.2) scale(0.979,0.905)" points="-0.0,41.5 4.9,44.8 9.1,52.3 14.1,58.9 18.2,63.1 20.4,68.1 19.0,73.9 14.9,78.0 9.1,80.5 5.8,84.7 3.8,91.0 -0.0,91.0" fill="#7a8250"/>
<polygon transform="translate(537.2,361.2) scale(0.979,0.905)" points="16.6,46.5 16.6,56.4 18.2,63.1 20.4,68.1 19.0,73.9 14.9,78.0 9.1,80.5 5.8,84.7 3.8,91.0 5.8,90.5 17.4,91.0 29.0,92.1 35.7,94.1 45.6,92.6 58.9,90.5 68.9,91.3 75.5,93.0 78.8,96.3 80.5,92.1 77.2,88.3 67.2,80.0 55.6,71.4 45.6,63.1 46.4,63.9 44.0,65.6 37.3,67.2 31.5,65.6 27.0,63.4 25.0,58.9 24.0,53.1 23.2,48.8 16.6,46.5" fill="#7a8250"/>
<polygon transform="translate(537.2,361.2) scale(0.979,0.905)" points="-0.0,-0.0 0.3,2.3 0.9,16.1 2.4,26.9 7.8,34.9 15.7,42.8 16.6,46.5 16.6,56.4 18.2,63.1 18.2,63.1 14.1,58.9 9.1,52.3 4.9,44.8 -0.0,41.5" fill="#52caa2"/>
<polygon transform="translate(537.2,361.2) scale(0.979,0.905)" points="-0.0,34.0 0.9,19.9 2.4,26.9 7.8,34.9 15.7,42.8 16.6,46.5 16.6,56.4 18.2,63.1 18.2,63.1 14.1,58.9 9.1,52.3 4.9,44.8 -0.0,41.5" fill="#d2b242"/>
<polygon transform="translate(537.2,361.2) scale(0.979,0.905)" points="0.3,2.3 0.9,16.1 2.4,26.9 7.8,34.9 15.7,42.8 23.2,48.5 29.0,52.3 37.3,56.1 45.6,63.1 46.4,60.4 39.1,54.1 31.7,46.6 23.2,38.2 16.9,29.9 10.6,21.4 5.3,10.8 2.1,0.6" fill="#e0324a"/>
<polygon transform="translate(537.2,361.2) scale(0.979,0.905)" points="23.2,48.5 29.0,52.3 37.3,56.1 45.6,63.1 46.4,63.9 44.0,65.6 37.3,67.2 31.5,65.6 27.0,63.4 25.0,58.9 24.0,53.1 23.2,48.8" fill="#c4eaea"/>
<polygon transform="translate(537.2,361.2) scale(0.979,0.905)" points="2.1,0.6 5.3,10.8 10.6,21.4 16.9,29.9 23.2,38.2 31.7,46.6 39.1,54.1 46.4,60.4 55.6,71.4 67.2,80.0 77.2,88.3 80.5,92.1 81.3,92.6 84.3,89.3 85.5,85.5 85.0,80.4 78.8,71.9 71.7,64.7 61.9,52.6 54.8,41.8 45.1,32.0 37.8,23.9 34.3,20.2 31.5,15.8 31.0,15.8 28.2,17.9 24.9,16.3 21.5,11.6 19.0,6.6 17.4,0.3" fill="#efefc6"/>
<polygon transform="translate(537.2,361.2) scale(0.979,0.905)" points="17.4,0.3 19.0,6.6 21.5,11.6 24.9,16.3 28.2,17.9 31.0,15.8 31.8,9.9 31.5,0.3" fill="#c4cc94"/>
<polygon transform="translate(537.2,361.2) scale(0.979,0.905)" points="32.7,0.3 36.5,0.3 44.0,5.0 50.6,10.3 60.6,15.8 70.5,20.7 78.8,24.9 85.7,30.4 89.4,32.9 92.7,36.5 96.9,40.7 100.2,46.5 99.4,52.3 94.4,55.6 87.7,56.1 77.8,52.8 70.5,46.8 62.2,40.2 52.3,33.5 44.0,28.2 38.1,24.9 34.8,19.9 32.7,11.6 32.7,0.3" fill="#cbd09c"/>
<polygon transform="translate(537.2,361.2) scale(0.979,0.905)" points="39.3,25.6 44.0,28.2 52.3,33.5 62.2,40.2 70.5,46.8 77.8,52.8 87.7,56.1 94.4,55.6 96.4,60.6 98.9,67.1 97.7,73.2 94.5,78.0 88.6,80.4 85.2,81.4 85.0,80.4 78.8,71.9 71.7,64.7 61.9,52.6 54.8,41.8 45.1,32.0" fill="#b6aa68"/>
<polygon points="537.2,399.8 543.0,403.1 551.3,413.9 555.4,418.1 556.2,428.0 549.6,432.2 537.2,433.0" fill="#8a9060"/>
<polygon points="596.1,434.7 604.4,437.2 616.0,444.7 623.5,452.1 608.3,450.5 616.6,454.6 628.2,458.8 628.2,453.8 611.6,448.0 601.6,444.7 611.0,443.0 599.4,439.7" fill="#5a4ec2"/>
<polygon points="628.2,452.6 685.5,452.6 685.5,460.4 628.2,458.8" fill="#7a62c6"/>
<polygon points="673.0,453.8 685.5,453.8 685.5,460.4 678.0,460.4" fill="#e244b4"/>
<polygon points="677.2,389.9 685.5,387.4 685.5,403.1 680.5,401.5" fill="#62d2c2"/>
<ellipse transform="translate(537.2,361.2) scale(0.979,0.905)" cx="134.2" cy="39.5" rx="8.0" ry="8.3" fill="#a8c460"/>
<g clip-path="url(#cs7PM)"><rect x="534.2" y="357.2" width="158" height="116" fill="#fff" filter="url(#khspk)" opacity="0.7"/></g>
<g clip-path="url(#cs7PM)"><rect x="534.2" y="357.2" width="158" height="116" fill="#fff" filter="url(#olspk)" opacity="0.4"/></g>
<g clip-path="url(#cs7MV)"><rect x="534.2" y="357.2" width="158" height="116" fill="#fff" filter="url(#khspk)" opacity="0.8"/></g>
<g clip-path="url(#cs7CB)"><rect x="534.2" y="357.2" width="158" height="116" fill="#fff" filter="url(#khspk)" opacity="0.6"/></g>
<g clip-path="url(#cs7PL)"><rect x="534.2" y="357.2" width="158" height="116" fill="#fff" filter="url(#khspk)" opacity="0.6"/></g>
<g clip-path="url(#cs7MR)"><rect x="534.2" y="357.2" width="158" height="116" fill="#fff" filter="url(#olspk)" opacity="0.4"/></g>
<g clip-path="url(#cs7ALL)"><rect x="534.2" y="357.2" width="158" height="116" fill="#fff" filter="url(#cspk)" opacity="1"/></g>
<g clip-path="url(#cs7BP)"><rect x="534.2" y="357.2" width="158" height="116" fill="#fff" filter="url(#vspk)" opacity="1"/></g>
<g clip-path="url(#cs7ALL)"><rect x="534.2" y="357.2" width="158" height="116" fill="#fff" filter="url(#spk)" opacity="1"/></g>
</g>
<use href="#oln" transform="translate(537.2,361.2) scale(0.979,0.905)"/>
<circle transform="translate(537.2,361.2) scale(0.979,0.905)" cx="34.3" cy="82.7" r="2.5" fill="#fff"/>
<text x="-1.6" y="202.5" font-size="14.4" fill="#111">B</text>
</g>
<g id="panelC">
<rect x="134.70" y="495.80" width="55.50" height="19.70" fill="#3565ad"/>
<rect x="189.90" y="495.80" width="27.90" height="19.70" fill="#27356b"/>
<rect x="217.50" y="495.80" width="27.60" height="19.70" fill="#3565ad"/>
<rect x="134.70" y="515.20" width="27.90" height="19.70" fill="#7bb6dc"/>
<rect x="162.30" y="515.20" width="27.90" height="19.70" fill="#27356b"/>
<rect x="189.90" y="515.20" width="27.90" height="19.70" fill="#4b8fca"/>
<rect x="217.50" y="515.20" width="27.60" height="19.70" fill="#7bb6dc"/>
<rect x="134.70" y="534.60" width="27.90" height="19.70" fill="#b4d7ec"/>
<rect x="162.30" y="534.60" width="27.90" height="19.70" fill="#7bb6dc"/>
<rect x="189.90" y="534.60" width="27.90" height="19.70" fill="#3565ad"/>
<rect x="217.50" y="534.60" width="27.60" height="19.70" fill="#27356b"/>
<rect x="134.70" y="554.00" width="27.90" height="19.70" fill="#27356b"/>
<rect x="162.30" y="554.00" width="27.90" height="19.70" fill="#4b8fca"/>
<rect x="189.90" y="554.00" width="27.90" height="19.70" fill="#7bb6dc"/>
<rect x="217.50" y="554.00" width="27.60" height="19.70" fill="#4b8fca"/>
<rect x="134.70" y="573.40" width="27.90" height="19.70" fill="#4b8fca"/>
<rect x="162.30" y="573.40" width="82.80" height="19.70" fill="#b4d7ec"/>
<rect x="134.70" y="592.80" width="55.50" height="19.70" fill="#dcebf7"/>
<rect x="189.90" y="592.80" width="55.20" height="19.70" fill="#fbfdfe"/>
<rect x="134.70" y="612.20" width="55.50" height="19.40" fill="#fbfdfe"/>
<rect x="189.90" y="612.20" width="55.20" height="19.40" fill="#dcebf7"/>
<text x="220.9" y="492" font-size="15.6" font-weight="bold" text-anchor="middle" fill="#111">VI</text>
<text x="149.2" y="644.5" font-size="10.9" text-anchor="middle" fill="#141414">5</text>
<path d="M149.1 631.6v2" stroke="#222" stroke-width="0.9"/>
<text x="176.8" y="644.5" font-size="10.9" text-anchor="middle" fill="#141414">6</text>
<path d="M176.7 631.6v2" stroke="#222" stroke-width="0.9"/>
<text x="204.4" y="644.5" font-size="10.9" text-anchor="middle" fill="#141414">10</text>
<path d="M204.3 631.6v2" stroke="#222" stroke-width="0.9"/>
<text x="232.0" y="644.5" font-size="10.9" text-anchor="middle" fill="#141414">16</text>
<path d="M231.9 631.6v2" stroke="#222" stroke-width="0.9"/>
<text x="200" y="659.1" font-size="10.7" text-anchor="middle" fill="#141414" textLength="82.8" lengthAdjust="spacingAndGlyphs">N° pred. domains</text>
<rect x="246.80" y="495.80" width="55.60" height="19.70" fill="#b8292b"/>
<rect x="302.10" y="495.80" width="27.95" height="19.70" fill="#6c0e18"/>
<rect x="329.75" y="495.80" width="27.65" height="19.70" fill="#b8292b"/>
<rect x="246.80" y="515.20" width="27.95" height="19.70" fill="#e8372f"/>
<rect x="274.45" y="515.20" width="27.95" height="19.70" fill="#6c0e18"/>
<rect x="302.10" y="515.20" width="27.95" height="19.70" fill="#e8372f"/>
<rect x="329.75" y="515.20" width="27.65" height="19.70" fill="#ea6b53"/>
<rect x="246.80" y="534.60" width="27.95" height="19.70" fill="#ea6b53"/>
<rect x="274.45" y="534.60" width="27.95" height="19.70" fill="#e8372f"/>
<rect x="302.10" y="534.60" width="27.95" height="19.70" fill="#b8292b"/>
<rect x="329.75" y="534.60" width="27.65" height="19.70" fill="#6c0e18"/>
<rect x="246.80" y="554.00" width="27.95" height="19.70" fill="#6c0e18"/>
<rect x="274.45" y="554.00" width="55.60" height="19.70" fill="#ea6b53"/>
<rect x="329.75" y="554.00" width="27.65" height="19.70" fill="#e8372f"/>
<rect x="246.80" y="573.40" width="110.60" height="19.70" fill="#eda18b"/>
<rect x="246.80" y="592.80" width="27.95" height="19.70" fill="#fcf6f1"/>
<rect x="274.45" y="592.80" width="27.95" height="19.70" fill="#f4d1c3"/>
<rect x="302.10" y="592.80" width="55.30" height="19.70" fill="#fcf6f1"/>
<rect x="246.80" y="612.20" width="27.95" height="19.40" fill="#f4d1c3"/>
<rect x="274.45" y="612.20" width="27.95" height="19.40" fill="#fcf6f1"/>
<rect x="302.10" y="612.20" width="55.30" height="19.40" fill="#f4d1c3"/>
<text x="336.9" y="492" font-size="15.6" font-weight="bold" text-anchor="middle" fill="#111">NMI</text>
<text x="261.3" y="644.5" font-size="10.9" text-anchor="middle" fill="#141414">5</text>
<path d="M261.2 631.6v2" stroke="#222" stroke-width="0.9"/>
<text x="289.0" y="644.5" font-size="10.9" text-anchor="middle" fill="#141414">6</text>
<path d="M288.9 631.6v2" stroke="#222" stroke-width="0.9"/>
<text x="316.6" y="644.5" font-size="10.9" text-anchor="middle" fill="#141414">10</text>
<path d="M316.5 631.6v2" stroke="#222" stroke-width="0.9"/>
<text x="344.3" y="644.5" font-size="10.9" text-anchor="middle" fill="#141414">16</text>
<path d="M344.2 631.6v2" stroke="#222" stroke-width="0.9"/>
<text x="308" y="659.1" font-size="10.7" text-anchor="middle" fill="#141414" textLength="82.8" lengthAdjust="spacingAndGlyphs">N° pred. domains</text>
<rect x="359.20" y="495.80" width="27.97" height="19.70" fill="#4daa5b"/>
<rect x="386.88" y="495.80" width="27.97" height="19.70" fill="#308141"/>
<rect x="414.55" y="495.80" width="27.97" height="19.70" fill="#1f4e24"/>
<rect x="442.22" y="495.80" width="27.67" height="19.70" fill="#4daa5b"/>
<rect x="359.20" y="515.20" width="27.97" height="19.70" fill="#308141"/>
<rect x="386.88" y="515.20" width="27.97" height="19.70" fill="#1f4e24"/>
<rect x="414.55" y="515.20" width="27.97" height="19.70" fill="#4daa5b"/>
<rect x="442.22" y="515.20" width="27.67" height="19.70" fill="#7fd17b"/>
<rect x="359.20" y="534.60" width="27.97" height="19.70" fill="#b6e4b1"/>
<rect x="386.88" y="534.60" width="27.97" height="19.70" fill="#4daa5b"/>
<rect x="414.55" y="534.60" width="27.97" height="19.70" fill="#308141"/>
<rect x="442.22" y="534.60" width="27.67" height="19.70" fill="#1f4e24"/>
<rect x="359.20" y="554.00" width="27.97" height="19.70" fill="#1f4e24"/>
<rect x="386.88" y="554.00" width="27.97" height="19.70" fill="#b6e4b1"/>
<rect x="414.55" y="554.00" width="27.97" height="19.70" fill="#7fd17b"/>
<rect x="442.22" y="554.00" width="27.67" height="19.70" fill="#308141"/>
<rect x="359.20" y="573.40" width="27.97" height="19.70" fill="#7fd17b"/>
<rect x="386.88" y="573.40" width="27.97" height="19.70" fill="#dff3da"/>
<rect x="414.55" y="573.40" width="55.35" height="19.70" fill="#b6e4b1"/>
<rect x="359.20" y="592.80" width="27.97" height="19.70" fill="#dff3da"/>
<rect x="386.88" y="592.80" width="27.97" height="19.70" fill="#7fd17b"/>
<rect x="414.55" y="592.80" width="55.35" height="19.70" fill="#f9fcf6"/>
<rect x="359.20" y="612.20" width="55.65" height="19.40" fill="#f9fcf6"/>
<rect x="414.55" y="612.20" width="55.35" height="19.40" fill="#dff3da"/>
<text x="449.9" y="492" font-size="15.6" font-weight="bold" text-anchor="middle" fill="#111">ARI</text>
<text x="373.7" y="644.5" font-size="10.9" text-anchor="middle" fill="#141414">5</text>
<path d="M373.6 631.6v2" stroke="#222" stroke-width="0.9"/>
<text x="401.4" y="644.5" font-size="10.9" text-anchor="middle" fill="#141414">6</text>
<path d="M401.3 631.6v2" stroke="#222" stroke-width="0.9"/>
<text x="429.1" y="644.5" font-size="10.9" text-anchor="middle" fill="#141414">10</text>
<path d="M429.0 631.6v2" stroke="#222" stroke-width="0.9"/>
<text x="456.8" y="644.5" font-size="10.9" text-anchor="middle" fill="#141414">16</text>
<path d="M456.7 631.6v2" stroke="#222" stroke-width="0.9"/>
<text x="415.5" y="659.1" font-size="10.7" text-anchor="middle" fill="#141414" textLength="82.8" lengthAdjust="spacingAndGlyphs">N° pred. domains</text>
<rect x="470.10" y="495.80" width="27.97" height="19.70" fill="#ec8d4b"/>
<rect x="497.77" y="495.80" width="27.97" height="19.70" fill="#be4229"/>
<rect x="525.45" y="495.80" width="27.97" height="19.70" fill="#832d1f"/>
<rect x="553.12" y="495.80" width="27.67" height="19.70" fill="#e8652b"/>
<rect x="470.10" y="515.20" width="27.97" height="19.70" fill="#be4229"/>
<rect x="497.77" y="515.20" width="27.97" height="19.70" fill="#832d1f"/>
<rect x="525.45" y="515.20" width="27.97" height="19.70" fill="#e8652b"/>
<rect x="553.12" y="515.20" width="27.67" height="19.70" fill="#ec8d4b"/>
<rect x="470.10" y="534.60" width="27.97" height="19.70" fill="#efb986"/>
<rect x="497.77" y="534.60" width="27.97" height="19.70" fill="#e8652b"/>
<rect x="525.45" y="534.60" width="27.97" height="19.70" fill="#be4229"/>
<rect x="553.12" y="534.60" width="27.67" height="19.70" fill="#832d1f"/>
<rect x="470.10" y="554.00" width="27.97" height="19.70" fill="#832d1f"/>
<rect x="497.77" y="554.00" width="55.65" height="19.70" fill="#ec8d4b"/>
<rect x="553.12" y="554.00" width="27.67" height="19.70" fill="#be4229"/>
<rect x="470.10" y="573.40" width="27.97" height="19.70" fill="#e8652b"/>
<rect x="497.77" y="573.40" width="83.02" height="19.70" fill="#efb986"/>
<rect x="470.10" y="592.80" width="55.65" height="19.70" fill="#f5dfc4"/>
<rect x="525.45" y="592.80" width="55.35" height="19.70" fill="#fcf8ee"/>
<rect x="470.10" y="612.20" width="55.65" height="19.40" fill="#fcf8ee"/>
<rect x="525.45" y="612.20" width="55.35" height="19.40" fill="#f5dfc4"/>
<text x="558.1" y="492" font-size="15.6" font-weight="bold" text-anchor="middle" fill="#111">FMI</text>
<text x="484.6" y="644.5" font-size="10.9" text-anchor="middle" fill="#141414">5</text>
<path d="M484.5 631.6v2" stroke="#222" stroke-width="0.9"/>
<text x="512.3" y="644.5" font-size="10.9" text-anchor="middle" fill="#141414">6</text>
<path d="M512.2 631.6v2" stroke="#222" stroke-width="0.9"/>
<text x="540.0" y="644.5" font-size="10.9" text-anchor="middle" fill="#141414">10</text>
<path d="M539.9 631.6v2" stroke="#222" stroke-width="0.9"/>
<text x="567.7" y="644.5" font-size="10.9" text-anchor="middle" fill="#141414">16</text>
<path d="M567.6 631.6v2" stroke="#222" stroke-width="0.9"/>
<text x="524" y="659.1" font-size="10.7" text-anchor="middle" fill="#141414" textLength="82.8" lengthAdjust="spacingAndGlyphs">N° pred. domains</text>
<text x="128.6" y="509.1" font-size="10.6" font-weight="bold" font-style="italic" text-anchor="end" fill="#111">AGGSIGNAL</text>
<path d="M130.8 505.5H134.7" stroke="#222" stroke-width="1.1"/>
<text x="128.6" y="528.5" font-size="10.6" font-weight="bold" font-style="italic" text-anchor="end" fill="#111">BANKSY</text>
<path d="M130.8 524.9H134.7" stroke="#222" stroke-width="1.1"/>
<text x="128.6" y="547.9" font-size="10.6" font-weight="bold" font-style="italic" text-anchor="end" fill="#111">NEIGHBORS</text>
<path d="M130.8 544.3H134.7" stroke="#222" stroke-width="1.1"/>
<text x="128.6" y="567.3" font-size="10.6" font-weight="bold" font-style="italic" text-anchor="end" fill="#111">SPACEL</text>
<path d="M130.8 563.7H134.7" stroke="#222" stroke-width="1.1"/>
<text x="128.6" y="586.7" font-size="10.6" font-weight="bold" font-style="italic" text-anchor="end" fill="#111">STAGATE</text>
<path d="M130.8 583.1H134.7" stroke="#222" stroke-width="1.1"/>
<text x="128.6" y="606.1" font-size="10.6" font-weight="bold" font-style="italic" text-anchor="end" fill="#111">SpaGCN</text>
<path d="M130.8 602.5H134.7" stroke="#222" stroke-width="1.1"/>
<text x="128.6" y="625.5" font-size="10.6" font-weight="bold" font-style="italic" text-anchor="end" fill="#111">deepST</text>
<path d="M130.8 621.9H134.7" stroke="#222" stroke-width="1.1"/>
<text transform="translate(53.2,560.3) rotate(-90)" font-size="12.3" text-anchor="middle" fill="#141414" textLength="49" lengthAdjust="spacingAndGlyphs">Algorithm</text>
<text x="23.2" y="488.7" font-size="13.8" fill="#111">C</text>
<rect x="593.60" y="530.20" width="11.82" height="11.01" fill="#27356b"/>
<rect x="593.60" y="541.01" width="11.82" height="11.01" fill="#3565ad"/>
<rect x="593.60" y="551.83" width="11.82" height="11.01" fill="#4b8fca"/>
<rect x="593.60" y="562.64" width="11.82" height="11.01" fill="#7bb6dc"/>
<rect x="593.60" y="573.46" width="11.82" height="11.01" fill="#b4d7ec"/>
<rect x="593.60" y="584.27" width="11.82" height="11.01" fill="#dcebf7"/>
<rect x="593.60" y="595.09" width="11.82" height="11.01" fill="#fbfdfe"/>
<rect x="605.23" y="530.20" width="11.82" height="11.01" fill="#6c0e18"/>
<rect x="605.23" y="541.01" width="11.82" height="11.01" fill="#b8292b"/>
<rect x="605.23" y="551.83" width="11.82" height="11.01" fill="#e8372f"/>
<rect x="605.23" y="562.64" width="11.82" height="11.01" fill="#ea6b53"/>
<rect x="605.23" y="573.46" width="11.82" height="11.01" fill="#eda18b"/>
<rect x="605.23" y="584.27" width="11.82" height="11.01" fill="#f4d1c3"/>
<rect x="605.23" y="595.09" width="11.82" height="11.01" fill="#fcf6f1"/>
<rect x="616.85" y="530.20" width="11.82" height="11.01" fill="#1f4e24"/>
<rect x="616.85" y="541.01" width="11.82" height="11.01" fill="#308141"/>
<rect x="616.85" y="551.83" width="11.82" height="11.01" fill="#4daa5b"/>
<rect x="616.85" y="562.64" width="11.82" height="11.01" fill="#7fd17b"/>
<rect x="616.85" y="573.46" width="11.82" height="11.01" fill="#b6e4b1"/>
<rect x="616.85" y="584.27" width="11.82" height="11.01" fill="#dff3da"/>
<rect x="616.85" y="595.09" width="11.82" height="11.01" fill="#f9fcf6"/>
<rect x="628.48" y="530.20" width="11.82" height="11.01" fill="#832d1f"/>
<rect x="628.48" y="541.01" width="11.82" height="11.01" fill="#be4229"/>
<rect x="628.48" y="551.83" width="11.82" height="11.01" fill="#e8652b"/>
<rect x="628.48" y="562.64" width="11.82" height="11.01" fill="#ec8d4b"/>
<rect x="628.48" y="573.46" width="11.82" height="11.01" fill="#efb986"/>
<rect x="628.48" y="584.27" width="11.82" height="11.01" fill="#f5dfc4"/>
<rect x="628.48" y="595.09" width="11.82" height="11.01" fill="#fcf8ee"/>
<path d="M593.6 541.0H640.1" stroke="#fff" stroke-width="0.6"/>
<path d="M605.2 530.2v10.8" stroke="#fff" stroke-width="0.5"/>
<path d="M616.9 530.2v10.8" stroke="#fff" stroke-width="0.5"/>
<path d="M628.5 530.2v10.8" stroke="#fff" stroke-width="0.5"/>
<text x="643.6" y="538.8" font-size="10.5" fill="#111">1</text>
<text x="643.6" y="562.5" font-size="10.5" fill="#111">3</text>
<text x="643.6" y="583.3" font-size="10.5" fill="#111">5</text>
<text x="643.6" y="605.1" font-size="10.5" fill="#111">7</text>
<text x="621.7" y="509" font-size="10.1" text-anchor="middle" fill="#141414">Ranked</text>
<text x="621.7" y="520.7" font-size="10.1" text-anchor="middle" fill="#141414">performance</text>
</g>
</svg>
</body></html>
